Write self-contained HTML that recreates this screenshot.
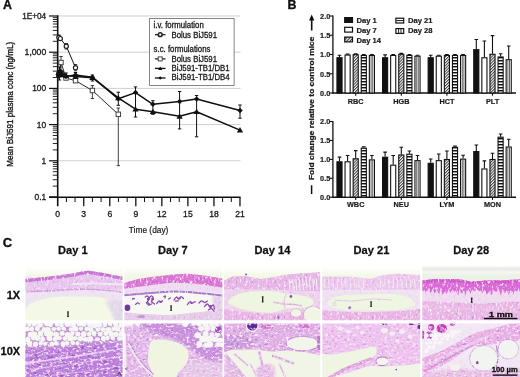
<!DOCTYPE html>
<html><head><meta charset="utf-8"><title>Figure</title>
<style>
html,body{margin:0;padding:0;background:#fff;}
body{width:520px;height:377px;overflow:hidden;}
svg{display:block;font-family:'Liberation Sans', Arial, sans-serif;}
</style></head>
<body>
<svg width="520" height="377" viewBox="0 0 520 377">

<defs>
<pattern id="hatch" patternUnits="userSpaceOnUse" width="2.05" height="2.05" patternTransform="rotate(45)">
<rect width="2.05" height="2.05" fill="#fff"/><line x1="0.5" y1="0" x2="0.5" y2="2.05" stroke="#333" stroke-width="0.95"/></pattern>
<pattern id="hatchL" patternUnits="userSpaceOnUse" width="2.3" height="2.3" patternTransform="rotate(45)">
<rect width="2.3" height="2.3" fill="#fff"/><line x1="0.5" y1="0" x2="0.5" y2="2.3" stroke="#222" stroke-width="1.0"/></pattern>
<pattern id="hstripe" patternUnits="userSpaceOnUse" width="6" height="3.0">
<rect width="6" height="3.0" fill="#fff"/><rect x="0" y="0" width="6" height="1.45" fill="#111"/></pattern>

<filter id="tex" x="0" y="0" width="100%" height="100%" color-interpolation-filters="sRGB">
<feTurbulence type="fractalNoise" baseFrequency="0.5 0.28" numOctaves="2" seed="4" result="n"/>
<feColorMatrix in="SourceGraphic" type="matrix" values="0 0 0 0 0  0 0 0 0 0  0 0 0 0 0  0 -4 0 0 3.8" result="m"/>
<feColorMatrix in="n" type="matrix" values="0 0 0 0 0.55  0 0 0 0 0.3  0 0 0 0 0.68  2.0 0 0 0 -1.22" result="dk"/>
<feColorMatrix in="n" type="matrix" values="0 0 0 0 1  0 0 0 0 0.97  0 0 0 0 1  0 -3.6 0 0 1.68" result="lt"/>
<feComposite in="dk" in2="m" operator="in" result="dk2"/>
<feComposite in="lt" in2="m" operator="in" result="lt2"/>
<feMerge result="mg"><feMergeNode in="SourceGraphic"/><feMergeNode in="dk2"/><feMergeNode in="lt2"/></feMerge>
<feGaussianBlur in="mg" stdDeviation="0.45"/>
</filter>
<filter id="tex2" x="0" y="0" width="100%" height="100%" color-interpolation-filters="sRGB">
<feTurbulence type="fractalNoise" baseFrequency="0.32 0.45" numOctaves="3" seed="9" result="n"/>
<feColorMatrix in="SourceGraphic" type="matrix" values="0 0 0 0 0  0 0 0 0 0  0 0 0 0 0  0 -4 0 0 3.8" result="m"/>
<feColorMatrix in="n" type="matrix" values="0 0 0 0 0.55  0 0 0 0 0.3  0 0 0 0 0.72  2.2 0 0 0 -1.3" result="dk"/>
<feColorMatrix in="n" type="matrix" values="0 0 0 0 1  0 0 0 0 0.94  0 0 0 0 1  0 -3.6 0 0 1.78" result="lt"/>
<feComposite in="dk" in2="m" operator="in" result="dk2"/>
<feComposite in="lt" in2="m" operator="in" result="lt2"/>
<feMerge result="mg"><feMergeNode in="SourceGraphic"/><feMergeNode in="dk2"/><feMergeNode in="lt2"/></feMerge>
<feGaussianBlur in="mg" stdDeviation="0.5"/>
</filter>
<linearGradient id="topfade" gradientUnits="userSpaceOnUse" x1="0" y1="0" x2="0" y2="10">
<stop offset="0" stop-color="#fff" stop-opacity="1"/><stop offset="0.35" stop-color="#fff" stop-opacity="0.75"/><stop offset="1" stop-color="#fff" stop-opacity="0"/></linearGradient>
<filter id="b06" x="-20%" y="-20%" width="140%" height="140%"><feGaussianBlur stdDeviation="0.6"/></filter>
<filter id="b1" x="-20%" y="-20%" width="140%" height="140%"><feGaussianBlur stdDeviation="1"/></filter>
<filter id="b15" x="-20%" y="-20%" width="140%" height="140%"><feGaussianBlur stdDeviation="1.5"/></filter>

</defs>

<rect width="520" height="377" fill="#fff"/>
<clipPath id="cp1"><rect x="0" y="0" width="97.30" height="54.30"/></clipPath><g transform="translate(25.30,266.00)"><g clip-path="url(#cp1)"><g filter="url(#tex)"><path d="M-3.0 -3.0 L100.3 -3.0 L100.3 57.3 L-3.0 57.3 Z" fill="#f4f8e6"/><path d="M-3.0 -3.0 L100.3 -3.0 L100.3 10.0 L-3.0 10.0 Z" fill="url(#topfade)"/><path d="M10.0 12.0 C13.7 11.6 18.2 11.3 22.4 10.8 C26.6 10.3 31.2 9.7 35.0 9.2 C38.8 8.7 42.5 8.2 45.0 7.8 C47.5 7.4 48.3 7.3 50.0 7.0 C51.7 6.7 52.9 6.2 55.0 5.8 C57.1 5.4 60.3 4.8 62.8 4.8 C65.3 4.8 67.5 5.4 70.0 5.8 C72.5 6.2 74.9 6.5 77.9 7.0 C80.9 7.5 84.8 8.4 88.0 9.0 C91.2 9.6 95.2 10.5 97.3 10.8 C99.3 11.1 99.8 3.2 100.3 11.0 C100.8 18.8 101.7 49.6 100.3 57.3 C98.9 65.0 94.0 59.4 92.0 57.3 C90.0 55.3 89.2 48.6 88.0 45.0 C86.8 41.4 86.7 38.2 85.0 36.0 C83.3 33.8 80.5 32.8 78.0 32.0 C75.5 31.2 74.7 31.2 70.0 31.0 C65.3 30.8 56.7 30.5 50.0 30.5 C43.3 30.5 35.8 30.4 30.0 31.0 C24.2 31.6 19.2 32.8 15.0 34.0 C10.8 35.2 7.5 36.5 5.0 38.0 C2.5 39.5 1.3 41.7 0.0 43.0 C-1.3 44.3 -3.0 51.0 -3.0 46.0 C-3.0 41.0 -2.2 18.8 0.0 13.1 C2.2 7.4 6.3 12.4 10.0 12.0 Z" fill="#eee4f2" filter="url(#b06)"/><path d="M80.0 36.0 L90.0 34.0 L100.3 36.0 L100.3 57.3 L90.0 57.3 L86.0 46.0 Z" fill="#e2dae8" filter="url(#b15)"/><path d="M0.0 13.1 L10.0 12.0 L22.4 10.8 L35.0 9.2 L45.0 7.8 L50.0 7.0 L55.0 5.8 L62.8 4.8 L70.0 5.8 L77.9 7.0 L88.0 9.0 L97.3 10.8 L100.3 24.0 L70.0 22.5 L47.7 23.0 L20.0 25.0 L-3.0 26.0 Z" fill="#e8c6ee" filter="url(#b06)"/><path d="M47.0 17.0 L70.0 16.5 L100.3 17.5 L100.3 19.5 L70.0 18.5 L47.0 19.0 Z" fill="#f2e6f6" filter="url(#b06)"/><path d="M0.0 13.1 L10.0 12.0 L22.4 10.8 L35.0 9.2 L45.0 7.8 L50.0 7.0 L55.0 5.8 L62.8 4.8 L70.0 5.8 L77.9 7.0 L88.0 9.0 L97.3 10.8 L97.3 14.0 L88.0 12.2 L77.9 10.2 L70.0 9.0 L62.8 8.0 L55.0 9.0 L50.0 10.2 L45.0 11.0 L35.0 12.4 L22.4 14.0 L10.0 15.2 L0.0 16.3 Z" fill="#c874d4" filter="url(#b06)"/><path d="M-3.0 26.0 C0.8 25.8 11.5 25.4 20.0 25.0 C28.5 24.6 39.4 23.8 47.7 23.5 C56.0 23.2 61.2 23.1 70.0 23.5 C78.8 23.9 95.2 25.8 100.3 26.2" stroke="#d69ede" stroke-width="1.6" fill="none"/></g><path d="M42.7 45.6V50.9" stroke="#1a1a1a" stroke-width="1.25"/><path d="M41.7 45.9H43.7M41.7 50.6H43.7" stroke="#1a1a1a" stroke-width="0.6"/></g></g>
<clipPath id="cp2"><rect x="0" y="0" width="97.30" height="53.40"/></clipPath><g transform="translate(25.30,323.60)"><g clip-path="url(#cp2)"><g filter="url(#tex2)"><path d="M-3.0 -3.0 L100.3 -3.0 L100.3 56.4 L-3.0 56.4 Z" fill="#bc80da"/><path d="M-3.0 -3.0 L100.3 -3.0 L100.3 19.0 L-3.0 27.0 Z" fill="#c490d8"/><ellipse cx="-1.3" cy="0.4" rx="2.3" ry="2.7" fill="#f4f8f0"/><ellipse cx="4.1" cy="0.3" rx="2.2" ry="2.6" fill="#f4f8f0"/><ellipse cx="9.0" cy="0.3" rx="2.8" ry="2.3" fill="#f4f8f0"/><ellipse cx="14.7" cy="1.2" rx="2.9" ry="2.8" fill="#f4f8f0"/><ellipse cx="21.5" cy="0.3" rx="2.6" ry="2.5" fill="#f4f8f0"/><ellipse cx="25.3" cy="0.7" rx="2.5" ry="2.9" fill="#f4f8f0"/><ellipse cx="31.7" cy="0.8" rx="2.3" ry="2.3" fill="#f4f8f0"/><ellipse cx="36.2" cy="1.3" rx="2.4" ry="2.6" fill="#f4f8f0"/><ellipse cx="42.1" cy="0.7" rx="2.9" ry="2.6" fill="#f4f8f0"/><ellipse cx="47.7" cy="1.0" rx="3.0" ry="2.6" fill="#f4f8f0"/><ellipse cx="53.9" cy="0.4" rx="2.7" ry="2.3" fill="#f4f8f0"/><ellipse cx="58.4" cy="0.3" rx="2.9" ry="2.8" fill="#f4f8f0"/><ellipse cx="64.5" cy="0.7" rx="2.8" ry="2.8" fill="#f4f8f0"/><ellipse cx="69.1" cy="1.6" rx="2.8" ry="3.0" fill="#f4f8f0"/><ellipse cx="73.7" cy="1.3" rx="3.1" ry="2.9" fill="#f4f8f0"/><ellipse cx="79.6" cy="0.8" rx="2.3" ry="2.7" fill="#f4f8f0"/><ellipse cx="84.8" cy="0.4" rx="2.5" ry="2.1" fill="#f4f8f0"/><ellipse cx="90.3" cy="0.8" rx="2.5" ry="2.8" fill="#f4f8f0"/><ellipse cx="96.3" cy="1.6" rx="3.1" ry="2.6" fill="#f4f8f0"/><ellipse cx="1.5" cy="5.5" rx="3.2" ry="2.5" fill="#f4f8f0"/><ellipse cx="6.5" cy="5.3" rx="2.4" ry="2.5" fill="#f4f8f0"/><ellipse cx="12.0" cy="4.9" rx="2.5" ry="2.6" fill="#f4f8f0"/><ellipse cx="18.8" cy="6.0" rx="2.7" ry="2.7" fill="#f4f8f0"/><ellipse cx="22.4" cy="6.3" rx="3.1" ry="3.0" fill="#f4f8f0"/><ellipse cx="28.5" cy="5.5" rx="2.5" ry="2.1" fill="#f4f8f0"/><ellipse cx="33.3" cy="5.2" rx="2.3" ry="2.1" fill="#f4f8f0"/><ellipse cx="38.5" cy="5.1" rx="2.3" ry="2.0" fill="#f4f8f0"/><ellipse cx="45.6" cy="5.9" rx="2.2" ry="2.3" fill="#f4f8f0"/><ellipse cx="50.0" cy="5.1" rx="3.2" ry="2.8" fill="#f4f8f0"/><ellipse cx="55.7" cy="5.0" rx="2.2" ry="2.2" fill="#f4f8f0"/><ellipse cx="61.7" cy="5.1" rx="2.6" ry="2.3" fill="#f4f8f0"/><ellipse cx="65.8" cy="5.8" rx="2.3" ry="2.6" fill="#f4f8f0"/><ellipse cx="72.6" cy="6.0" rx="2.4" ry="2.2" fill="#f4f8f0"/><ellipse cx="77.8" cy="5.8" rx="2.6" ry="2.5" fill="#f4f8f0"/><ellipse cx="83.3" cy="6.5" rx="3.1" ry="3.1" fill="#f4f8f0"/><ellipse cx="88.6" cy="5.3" rx="2.5" ry="2.2" fill="#f4f8f0"/><ellipse cx="92.6" cy="5.3" rx="2.6" ry="2.8" fill="#f4f8f0"/><ellipse cx="98.8" cy="6.4" rx="3.3" ry="2.8" fill="#f4f8f0"/><ellipse cx="-1.5" cy="10.0" rx="2.2" ry="2.5" fill="#f4f8f0"/><ellipse cx="5.2" cy="10.9" rx="2.7" ry="2.8" fill="#f4f8f0"/><ellipse cx="9.0" cy="10.7" rx="3.1" ry="3.1" fill="#f4f8f0"/><ellipse cx="15.2" cy="9.9" rx="2.6" ry="3.0" fill="#f4f8f0"/><ellipse cx="21.5" cy="10.2" rx="2.9" ry="2.7" fill="#f4f8f0"/><ellipse cx="25.4" cy="9.8" rx="2.7" ry="2.6" fill="#f4f8f0"/><ellipse cx="30.7" cy="10.9" rx="3.0" ry="2.8" fill="#f4f8f0"/><ellipse cx="36.9" cy="9.8" rx="2.6" ry="2.4" fill="#f4f8f0"/><ellipse cx="42.3" cy="11.1" rx="2.8" ry="2.8" fill="#f4f8f0"/><ellipse cx="47.0" cy="10.0" rx="2.3" ry="2.5" fill="#f4f8f0"/><ellipse cx="52.5" cy="10.3" rx="2.7" ry="2.3" fill="#f4f8f0"/><ellipse cx="58.3" cy="10.5" rx="2.8" ry="3.2" fill="#f4f8f0"/><ellipse cx="63.8" cy="10.4" rx="2.2" ry="2.6" fill="#f4f8f0"/><ellipse cx="68.6" cy="9.6" rx="2.5" ry="2.8" fill="#f4f8f0"/><ellipse cx="75.0" cy="10.5" rx="2.5" ry="2.5" fill="#f4f8f0"/><ellipse cx="80.6" cy="9.8" rx="2.4" ry="2.5" fill="#f4f8f0"/><ellipse cx="85.9" cy="10.4" rx="2.8" ry="3.0" fill="#f4f8f0"/><ellipse cx="90.7" cy="10.6" rx="2.6" ry="2.8" fill="#f4f8f0"/><ellipse cx="96.1" cy="10.4" rx="2.9" ry="2.7" fill="#f4f8f0"/><ellipse cx="2.4" cy="15.8" rx="2.5" ry="2.8" fill="#f4f8f0"/><ellipse cx="7.8" cy="14.5" rx="2.3" ry="2.1" fill="#f4f8f0"/><ellipse cx="12.0" cy="14.4" rx="2.9" ry="3.0" fill="#f4f8f0"/><ellipse cx="17.2" cy="15.4" rx="2.4" ry="3.0" fill="#f4f8f0"/><ellipse cx="24.2" cy="14.6" rx="2.8" ry="2.9" fill="#f4f8f0"/><ellipse cx="29.7" cy="15.6" rx="2.3" ry="2.4" fill="#f4f8f0"/><ellipse cx="33.8" cy="14.6" rx="2.7" ry="2.1" fill="#f4f8f0"/><ellipse cx="39.6" cy="15.0" rx="2.2" ry="2.4" fill="#f4f8f0"/><ellipse cx="44.9" cy="14.4" rx="3.1" ry="3.3" fill="#f4f8f0"/><ellipse cx="49.5" cy="14.7" rx="2.5" ry="2.2" fill="#f4f8f0"/><ellipse cx="55.0" cy="15.0" rx="3.1" ry="2.6" fill="#f4f8f0"/><ellipse cx="60.4" cy="15.8" rx="2.8" ry="2.3" fill="#f4f8f0"/><ellipse cx="65.6" cy="15.4" rx="2.2" ry="2.9" fill="#f4f8f0"/><ellipse cx="72.2" cy="15.6" rx="2.6" ry="2.0" fill="#f4f8f0"/><ellipse cx="78.0" cy="15.0" rx="2.5" ry="2.8" fill="#f4f8f0"/><ellipse cx="82.2" cy="14.5" rx="2.4" ry="2.3" fill="#f4f8f0"/><ellipse cx="87.4" cy="14.4" rx="2.3" ry="2.3" fill="#f4f8f0"/><ellipse cx="94.0" cy="14.8" rx="2.3" ry="2.5" fill="#f4f8f0"/><ellipse cx="98.0" cy="14.7" rx="2.5" ry="2.3" fill="#f4f8f0"/><ellipse cx="-1.6" cy="19.8" rx="2.5" ry="3.1" fill="#f4f8f0"/><ellipse cx="4.3" cy="19.8" rx="2.7" ry="2.8" fill="#f4f8f0"/><ellipse cx="10.2" cy="20.6" rx="2.8" ry="2.7" fill="#f4f8f0"/><ellipse cx="15.5" cy="19.6" rx="2.2" ry="2.2" fill="#f4f8f0"/><ellipse cx="19.8" cy="20.2" rx="2.2" ry="2.1" fill="#f4f8f0"/><ellipse cx="26.7" cy="20.4" rx="2.5" ry="2.5" fill="#f4f8f0"/><ellipse cx="31.0" cy="19.7" rx="2.4" ry="2.2" fill="#f4f8f0"/><ellipse cx="37.7" cy="20.6" rx="2.4" ry="3.0" fill="#f4f8f0"/><ellipse cx="41.8" cy="19.6" rx="2.2" ry="2.3" fill="#f4f8f0"/><ellipse cx="47.6" cy="19.3" rx="2.2" ry="2.4" fill="#f4f8f0"/><ellipse cx="52.2" cy="19.6" rx="2.0" ry="2.2" fill="#f4f8f0"/><path d="M-3 40 Q48.65 33.75 100.3 24.5" stroke="#e6cef0" stroke-width="1.8" fill="none"/><path d="M-3 47 Q48.65 41.0 100.3 32" stroke="#dcbcec" stroke-width="1.3" fill="none"/><path d="M-3 33.5 Q48.65 29.0 100.3 21.5" stroke="#cfa2e4" stroke-width="1.0" fill="none"/><path d="M-3 55 Q48.65 50.0 100.3 42" stroke="#d6b0e8" stroke-width="1.1" fill="none"/><ellipse cx="95.2" cy="51.3" rx="0.8" ry="0.9" fill="#8e48b4" opacity="0.7"/><ellipse cx="79.8" cy="52.4" rx="1.3" ry="0.8" fill="#8e48b4" opacity="0.7"/><ellipse cx="20.4" cy="52.0" rx="1.1" ry="0.9" fill="#8e48b4" opacity="0.7"/><ellipse cx="13.8" cy="41.2" rx="1.9" ry="0.7" fill="#8e48b4" opacity="0.7"/><ellipse cx="79.8" cy="38.2" rx="1.9" ry="1.0" fill="#8e48b4" opacity="0.7"/><ellipse cx="22.5" cy="50.7" rx="1.4" ry="0.6" fill="#8e48b4" opacity="0.7"/><ellipse cx="0.3" cy="41.0" rx="1.3" ry="0.8" fill="#8e48b4" opacity="0.7"/><ellipse cx="13.7" cy="36.7" rx="1.2" ry="1.1" fill="#8e48b4" opacity="0.7"/><ellipse cx="0.2" cy="47.3" rx="1.8" ry="0.7" fill="#8e48b4" opacity="0.7"/><ellipse cx="90.1" cy="44.3" rx="1.9" ry="0.8" fill="#8e48b4" opacity="0.7"/><ellipse cx="36.2" cy="36.8" rx="2.0" ry="1.0" fill="#8e48b4" opacity="0.7"/><ellipse cx="35.1" cy="37.8" rx="1.1" ry="0.6" fill="#8e48b4" opacity="0.7"/><ellipse cx="9.9" cy="49.2" rx="1.1" ry="1.2" fill="#8e48b4" opacity="0.7"/><ellipse cx="24.3" cy="34.0" rx="1.4" ry="0.7" fill="#8e48b4" opacity="0.7"/><ellipse cx="36.3" cy="52.2" rx="1.9" ry="1.1" fill="#8e48b4" opacity="0.7"/><ellipse cx="61.4" cy="50.9" rx="1.9" ry="0.9" fill="#8e48b4" opacity="0.7"/><ellipse cx="70.0" cy="24.7" rx="1.7" ry="0.9" fill="#8e48b4" opacity="0.7"/><ellipse cx="73.2" cy="42.6" rx="1.1" ry="0.6" fill="#8e48b4" opacity="0.7"/><ellipse cx="90.2" cy="25.6" rx="1.4" ry="0.8" fill="#8e48b4" opacity="0.7"/><ellipse cx="29.0" cy="46.4" rx="2.0" ry="0.8" fill="#8e48b4" opacity="0.7"/><ellipse cx="63.8" cy="32.7" rx="1.5" ry="0.8" fill="#8e48b4" opacity="0.7"/><ellipse cx="16.3" cy="31.8" rx="1.0" ry="1.1" fill="#8e48b4" opacity="0.7"/><ellipse cx="48.4" cy="31.3" rx="1.9" ry="1.2" fill="#8e48b4" opacity="0.7"/><ellipse cx="43.8" cy="29.3" rx="1.0" ry="0.7" fill="#8e48b4" opacity="0.7"/><ellipse cx="33.3" cy="28.7" rx="1.1" ry="0.8" fill="#8e48b4" opacity="0.7"/><ellipse cx="55.4" cy="50.1" rx="1.7" ry="0.8" fill="#8e48b4" opacity="0.7"/><ellipse cx="40.3" cy="40.2" rx="1.3" ry="0.8" fill="#8e48b4" opacity="0.7"/><ellipse cx="6.0" cy="35.4" rx="2.0" ry="0.7" fill="#8e48b4" opacity="0.7"/><ellipse cx="49.0" cy="42.9" rx="1.8" ry="0.7" fill="#8e48b4" opacity="0.7"/><ellipse cx="26.4" cy="33.4" rx="1.3" ry="0.9" fill="#8e48b4" opacity="0.7"/><ellipse cx="92.8" cy="48.6" rx="1.8" ry="0.6" fill="#8e48b4" opacity="0.7"/><ellipse cx="3.1" cy="46.2" rx="1.9" ry="0.9" fill="#8e48b4" opacity="0.7"/><ellipse cx="57.1" cy="24.3" rx="1.3" ry="1.2" fill="#8e48b4" opacity="0.7"/><ellipse cx="80.3" cy="48.9" rx="2.0" ry="0.7" fill="#8e48b4" opacity="0.7"/><ellipse cx="10.6" cy="32.0" rx="1.4" ry="1.0" fill="#8e48b4" opacity="0.7"/><ellipse cx="91.6" cy="44.5" rx="1.6" ry="1.1" fill="#8e48b4" opacity="0.7"/><ellipse cx="44.5" cy="40.8" rx="0.8" ry="1.1" fill="#8e48b4" opacity="0.7"/><ellipse cx="22.6" cy="51.3" rx="1.6" ry="0.8" fill="#8e48b4" opacity="0.7"/><ellipse cx="12.5" cy="34.4" rx="1.6" ry="1.0" fill="#8e48b4" opacity="0.7"/><ellipse cx="10.9" cy="29.9" rx="1.4" ry="0.9" fill="#8e48b4" opacity="0.7"/><ellipse cx="37.8" cy="32.0" rx="1.6" ry="0.5" fill="#ead6f2" opacity="0.8"/><ellipse cx="29.3" cy="38.9" rx="2.1" ry="0.8" fill="#ead6f2" opacity="0.8"/><ellipse cx="86.0" cy="36.9" rx="1.1" ry="0.6" fill="#ead6f2" opacity="0.8"/><ellipse cx="93.5" cy="43.9" rx="1.2" ry="0.5" fill="#ead6f2" opacity="0.8"/><ellipse cx="48.5" cy="44.2" rx="1.4" ry="0.6" fill="#ead6f2" opacity="0.8"/><ellipse cx="64.9" cy="51.2" rx="1.1" ry="0.5" fill="#ead6f2" opacity="0.8"/><ellipse cx="32.9" cy="37.7" rx="1.8" ry="0.6" fill="#ead6f2" opacity="0.8"/><ellipse cx="77.6" cy="45.4" rx="1.5" ry="0.6" fill="#ead6f2" opacity="0.8"/><ellipse cx="94.4" cy="31.3" rx="1.9" ry="0.6" fill="#ead6f2" opacity="0.8"/><ellipse cx="21.5" cy="47.1" rx="1.2" ry="1.0" fill="#ead6f2" opacity="0.8"/><ellipse cx="48.2" cy="30.3" rx="1.1" ry="0.7" fill="#ead6f2" opacity="0.8"/><ellipse cx="64.7" cy="51.9" rx="1.0" ry="0.7" fill="#ead6f2" opacity="0.8"/><ellipse cx="20.7" cy="52.7" rx="1.0" ry="0.5" fill="#ead6f2" opacity="0.8"/><ellipse cx="5.9" cy="38.3" rx="2.1" ry="0.9" fill="#ead6f2" opacity="0.8"/><ellipse cx="71.3" cy="53.3" rx="2.1" ry="0.7" fill="#ead6f2" opacity="0.8"/><ellipse cx="18.1" cy="51.7" rx="1.8" ry="0.5" fill="#ead6f2" opacity="0.8"/><ellipse cx="64.6" cy="34.9" rx="1.3" ry="0.7" fill="#ead6f2" opacity="0.8"/><ellipse cx="16.5" cy="27.7" rx="1.2" ry="0.7" fill="#ead6f2" opacity="0.8"/><ellipse cx="93.0" cy="25.3" rx="2.1" ry="0.6" fill="#ead6f2" opacity="0.8"/><ellipse cx="34.7" cy="48.5" rx="2.0" ry="0.7" fill="#ead6f2" opacity="0.8"/><ellipse cx="4.8" cy="40.3" rx="1.3" ry="1.0" fill="#ead6f2" opacity="0.8"/><ellipse cx="18.8" cy="36.9" rx="2.1" ry="0.5" fill="#ead6f2" opacity="0.8"/><ellipse cx="40.0" cy="48.2" rx="1.9" ry="0.5" fill="#ead6f2" opacity="0.8"/><ellipse cx="3.4" cy="30.3" rx="2.1" ry="0.6" fill="#ead6f2" opacity="0.8"/><ellipse cx="72.7" cy="50.3" rx="1.3" ry="0.6" fill="#ead6f2" opacity="0.8"/></g><path d="M92 52 l2 -3 l2 3" stroke="#333" stroke-width="0.8" fill="none"/></g></g>
<clipPath id="cp3"><rect x="0" y="0" width="98.00" height="54.30"/></clipPath><g transform="translate(124.40,266.00)"><g clip-path="url(#cp3)"><g filter="url(#tex)"><path d="M-3.0 -3.0 L101.0 -3.0 L101.0 57.3 L-3.0 57.3 Z" fill="#f6f8f1"/><path d="M-3.0 -3.0 L101.0 -3.0 L101.0 14.0 L-3.0 18.0 Z" fill="#f0f7e4"/><path d="M-3.0 -3.0 L101.0 -3.0 L101.0 10.0 L-3.0 10.0 Z" fill="url(#topfade)"/><path d="M20.0 48.0 C28.0 48.3 36.7 49.2 45.0 49.0 C53.3 48.8 60.7 47.2 70.0 46.5 C79.3 45.8 95.8 43.2 101.0 45.0 C106.2 46.8 118.3 55.3 101.0 57.3 C83.7 59.4 14.3 59.0 -3.0 57.3 C-20.3 55.6 -6.8 48.6 -3.0 47.0 C0.8 45.4 12.0 47.7 20.0 48.0 Z" fill="#e6cce8" filter="url(#b06)"/><path d="M88.0 30.0 L101.0 29.0 L101.0 48.0 L90.0 46.0 Z" fill="#e6d0ea" filter="url(#b1)"/><path d="M0.0 16.9 L13.7 13.1 L28.8 10.8 L48.6 8.6 L62.7 7.8 L77.8 9.3 L98.0 12.4 L101.0 28.0 L70.0 25.0 L48.0 24.0 L20.0 26.0 L-3.0 28.5 Z" fill="#eedcf2" filter="url(#b06)"/><path d="M-3.0 29.5 C0.8 29.2 11.5 28.2 20.0 27.5 C28.5 26.8 39.7 25.7 48.0 25.5 C56.3 25.3 61.2 25.8 70.0 26.5 C78.8 27.2 95.8 29.4 101.0 30.0" stroke="#a878cc" stroke-width="2" fill="none" filter="url(#b06)"/><path d="M0.0 16.9 L13.7 13.1 L28.8 10.8 L48.6 8.6 L62.7 7.8 L77.8 9.3 L98.0 12.4 L101.0 22.0 L70.0 17.5 L48.0 16.5 L20.0 20.0 L-3.0 23.0 Z" fill="#dc74d4" filter="url(#b06)"/></g><path d="M20.8 31.0 C21.2 30.8 22.4 29.7 23.0 30.0 C23.6 30.3 24.5 32.0 24.5 33.0 C24.5 34.0 22.8 35.1 23.0 36.0 C23.2 36.9 25.1 38.1 25.5 38.5" stroke="#8e46b6" stroke-width="1.3" fill="none" stroke-linecap="round" filter="url(#b06)"/><path d="M25.0 31.5 C25.4 31.2 26.8 29.8 27.5 30.0 C28.2 30.2 29.1 32.1 29.0 33.0 C28.9 33.9 26.8 34.7 27.0 35.5 C27.2 36.3 29.5 37.6 30.0 38.0" stroke="#8e46b6" stroke-width="1.3" fill="none" stroke-linecap="round" filter="url(#b06)"/><path d="M22.0 36.5 C22.3 36.9 23.2 38.8 24.0 39.0 C24.8 39.2 26.5 38.2 27.0 38.0" stroke="#8e46b6" stroke-width="1.3" fill="none" stroke-linecap="round" filter="url(#b06)"/><path d="M11.2 38.5 C11.5 38.2 12.4 36.9 13.0 36.8 C13.6 36.7 14.7 37.6 15.0 37.8" stroke="#8e46b6" stroke-width="1.3" fill="none" stroke-linecap="round" filter="url(#b06)"/><path d="M32.3 37.5 C32.7 37.1 33.8 35.2 34.5 35.0 C35.2 34.8 35.9 36.0 36.5 36.0 C37.1 36.0 37.8 35.0 38.0 34.8" stroke="#8e46b6" stroke-width="1.3" fill="none" stroke-linecap="round" filter="url(#b06)"/><path d="M39.5 30.5 C39.8 30.4 40.8 29.8 41.0 30.0 C41.2 30.2 40.6 31.7 40.5 32.0" stroke="#8e46b6" stroke-width="1.3" fill="none" stroke-linecap="round" filter="url(#b06)"/><path d="M49.6 34.0 C50.0 33.5 51.3 31.2 52.0 31.0 C52.7 30.8 53.2 33.0 54.0 33.0 C54.8 33.0 55.7 30.8 56.5 30.7 C57.3 30.6 58.6 32.2 59.0 32.5" stroke="#8e46b6" stroke-width="1.3" fill="none" stroke-linecap="round" filter="url(#b06)"/><path d="M51.0 35.2 L54.0 34.8" stroke="#8e46b6" stroke-width="1.3" fill="none" stroke-linecap="round" filter="url(#b06)"/><path d="M63.0 38.5 C63.4 38.0 64.7 36.0 65.5 35.8 C66.3 35.5 67.1 37.0 68.0 37.0 C68.9 37.0 70.3 35.8 70.8 35.6" stroke="#8e46b6" stroke-width="1.3" fill="none" stroke-linecap="round" filter="url(#b06)"/><path d="M74.6 37.0 C75.0 36.6 76.1 34.9 77.0 34.8 C77.9 34.7 79.0 36.5 80.0 36.5 C81.0 36.5 82.5 35.2 83.0 35.0" stroke="#8e46b6" stroke-width="1.3" fill="none" stroke-linecap="round" filter="url(#b06)"/><path d="M80.0 40.5 C80.5 40.1 82.0 37.9 83.0 38.0 C84.0 38.1 85.0 40.8 86.0 41.0 C87.0 41.2 88.3 38.7 89.0 39.0 C89.7 39.3 89.8 42.3 90.0 43.0" stroke="#8e46b6" stroke-width="1.3" fill="none" stroke-linecap="round" filter="url(#b06)"/><path d="M84.0 44.0 C84.5 43.8 86.1 42.3 87.0 42.5 C87.9 42.7 89.1 44.6 89.5 45.0" stroke="#8e46b6" stroke-width="1.3" fill="none" stroke-linecap="round" filter="url(#b06)"/><path d="M8.0 33.0 L10.0 32.5" stroke="#8e46b6" stroke-width="1.3" fill="none" stroke-linecap="round" filter="url(#b06)"/><path d="M44.0 33.0 L46.0 32.0" stroke="#8e46b6" stroke-width="1.3" fill="none" stroke-linecap="round" filter="url(#b06)"/><ellipse cx="24" cy="33" rx="1.6" ry="1.3" fill="#8a44b4" filter="url(#b06)"/><ellipse cx="28" cy="33" rx="1.3" ry="1.2" fill="#8a44b4" filter="url(#b06)"/><ellipse cx="55" cy="32.5" rx="1.4" ry="1.1" fill="#8a44b4" filter="url(#b06)"/><ellipse cx="86" cy="40.5" rx="1.6" ry="1.4" fill="#8a44b4" filter="url(#b06)"/><ellipse cx="36" cy="36" rx="1.2" ry="1" fill="#8a44b4" filter="url(#b06)"/><ellipse cx="67" cy="37" rx="1.2" ry="1" fill="#8a44b4" filter="url(#b06)"/><ellipse cx="3.0" cy="41.8" rx="2.9" ry="3.3" fill="#7434a6" filter="url(#b06)"/><ellipse cx="17" cy="50.5" rx="4" ry="1.6" fill="#c49ad4" filter="url(#b06)"/><path d="M46.7 39.6V44.8" stroke="#1a1a1a" stroke-width="1.25"/><path d="M45.7 39.9H47.7M45.7 44.5H47.7" stroke="#1a1a1a" stroke-width="0.6"/></g></g>
<clipPath id="cp4"><rect x="0" y="0" width="98.00" height="53.40"/></clipPath><g transform="translate(124.40,323.60)"><g clip-path="url(#cp4)"><g filter="url(#tex2)"><path d="M-3.0 -3.0 L101.0 -3.0 L101.0 56.4 L-3.0 56.4 Z" fill="#e2b8e8"/><path d="M101.0 -3.0 C114.8 4.2 104.2 33.5 101.0 40.0 C97.8 46.5 87.5 38.3 82.0 36.0 C76.5 33.7 72.3 29.0 68.0 26.0 C63.7 23.0 60.3 20.2 56.0 18.0 C51.7 15.8 46.7 14.5 42.0 13.0 C37.3 11.5 32.0 11.7 28.0 9.0 C24.0 6.3 5.8 -1.0 18.0 -3.0 C30.2 -5.0 87.2 -10.2 101.0 -3.0 Z" fill="#c890dc" filter="url(#b15)"/><path d="M80.0 38.0 C86.8 37.7 97.5 36.9 101.0 40.0 C104.5 43.1 107.8 53.7 101.0 56.4 C94.2 59.1 66.8 58.8 60.0 56.4 C53.2 54.0 56.7 45.1 60.0 42.0 C63.3 38.9 73.2 38.3 80.0 38.0 Z" fill="#e8cae8" filter="url(#b15)"/><ellipse cx="1.0" cy="0.2" rx="3.0" ry="2.7" fill="#f6f6f2"/><ellipse cx="5.7" cy="-0.9" rx="3.6" ry="3.3" fill="#f6f6f2"/><ellipse cx="13.4" cy="-0.9" rx="2.8" ry="3.2" fill="#f6f6f2"/><ellipse cx="61.0" cy="0.1" rx="3.3" ry="3.2" fill="#f6f6f2"/><ellipse cx="69.3" cy="-0.4" rx="2.3" ry="2.7" fill="#f6f6f2"/><ellipse cx="74.9" cy="-0.1" rx="2.7" ry="2.9" fill="#f6f6f2"/><ellipse cx="81.0" cy="0.5" rx="3.4" ry="2.9" fill="#f6f6f2"/><ellipse cx="87.6" cy="-0.4" rx="2.9" ry="3.3" fill="#f6f6f2"/><ellipse cx="92.3" cy="-0.5" rx="2.5" ry="3.1" fill="#f6f6f2"/><ellipse cx="99.4" cy="-0.3" rx="3.3" ry="2.9" fill="#f6f6f2"/><ellipse cx="76.8" cy="5.0" rx="3.0" ry="2.8" fill="#f6f6f2"/><ellipse cx="82.7" cy="4.7" rx="3.0" ry="3.0" fill="#f6f6f2"/><ellipse cx="89.0" cy="4.8" rx="3.1" ry="3.0" fill="#f6f6f2"/><ellipse cx="95.7" cy="6.2" rx="2.9" ry="2.7" fill="#f6f6f2"/><ellipse cx="73.4" cy="11.6" rx="3.3" ry="3.0" fill="#f6f6f2"/><ellipse cx="81.3" cy="10.2" rx="3.0" ry="3.1" fill="#f6f6f2"/><ellipse cx="87.6" cy="11.4" rx="2.5" ry="2.7" fill="#f6f6f2"/><ellipse cx="93.0" cy="10.6" rx="2.5" ry="2.9" fill="#f6f6f2"/><ellipse cx="100.1" cy="9.9" rx="3.3" ry="2.6" fill="#f6f6f2"/><ellipse cx="78.5" cy="15.5" rx="3.8" ry="3.5" fill="#f6f6f2"/><ellipse cx="84.4" cy="15.6" rx="3.4" ry="3.8" fill="#f6f6f2"/><ellipse cx="90.8" cy="15.6" rx="3.6" ry="2.8" fill="#f6f6f2"/><ellipse cx="95.8" cy="16.7" rx="3.1" ry="2.5" fill="#f6f6f2"/><ellipse cx="74.9" cy="20.7" rx="3.0" ry="3.4" fill="#f6f6f2"/><ellipse cx="81.7" cy="21.7" rx="3.0" ry="2.7" fill="#f6f6f2"/><ellipse cx="85.8" cy="20.9" rx="3.0" ry="3.1" fill="#f6f6f2"/><ellipse cx="93.9" cy="20.9" rx="2.9" ry="2.4" fill="#f6f6f2"/><ellipse cx="98.1" cy="21.3" rx="2.6" ry="2.5" fill="#f6f6f2"/><circle cx="94" cy="6" r="3.4" fill="#9a4cbe" filter="url(#b06)"/><path d="M35.0 16.0 C38.0 15.9 41.7 16.3 45.0 17.0 C48.3 17.7 52.0 18.5 55.0 20.0 C58.0 21.5 61.5 23.5 63.0 26.0 C64.5 28.5 64.5 32.2 64.0 35.0 C63.5 37.8 61.5 40.8 60.0 43.0 C58.5 45.2 56.3 46.3 55.0 48.0 C53.7 49.7 52.5 51.9 52.0 53.4 C51.5 54.9 55.3 56.4 52.0 57.0 C48.7 57.6 36.2 58.7 32.0 57.0 C27.8 55.3 28.4 50.0 27.0 47.0 C25.6 44.0 24.0 42.2 23.5 39.0 C23.0 35.8 23.4 31.6 24.0 28.0 C24.6 24.4 25.2 19.5 27.0 17.5 C28.8 15.5 32.0 16.1 35.0 16.0 Z" fill="#f0f5e2" filter="url(#b06)"/><path d="M4.0 20.0 C5.0 21.8 7.7 27.3 10.0 31.0 C12.3 34.7 15.0 38.6 18.0 42.0 C21.0 45.4 26.3 49.9 28.0 51.5" stroke="#f4eef4" stroke-width="1.6" fill="none"/><path d="M5.5 19.5 C6.5 21.3 9.2 26.8 11.5 30.5 C13.8 34.2 16.5 38.1 19.5 41.5 C22.5 44.9 27.8 49.4 29.5 51.0" stroke="#9a5ab8" stroke-width="0.6" fill="none"/><path d="M-3.0 8.0 L1.5 10.0 L2.0 50.0 L-3.0 52.0 Z" fill="#f2eef2" filter="url(#b06)"/><ellipse cx="2" cy="45" rx="1.6" ry="1" fill="#5a2a90"/></g></g></g>
<clipPath id="cp5"><rect x="0" y="0" width="96.10" height="54.30"/></clipPath><g transform="translate(224.10,266.00)"><g clip-path="url(#cp5)"><g filter="url(#tex)"><path d="M-3.0 -3.0 L99.1 -3.0 L99.1 57.3 L-3.0 57.3 Z" fill="#f3f8e6"/><path d="M-3.0 -3.0 L99.1 -3.0 L99.1 10.0 L-3.0 10.0 Z" fill="url(#topfade)"/><path d="M-3.0 14.6 L0.0 14.6 L8.0 10.8 L21.6 10.1 L36.7 13.1 L47.9 11.6 L63.0 8.6 L78.0 7.4 L96.1 6.3 L99.1 6.3 L99.1 57.3 L-3.0 57.3 Z" fill="#eed2ee" filter="url(#b06)"/><path d="M0.0 14.6 L8.0 10.8 L21.6 10.1 L36.7 13.1 L47.9 11.6 L63.0 8.6 L78.0 7.4 L96.1 6.3 L99.1 25.5 L48.0 23.5 L-3.0 23.0 Z" fill="#e8b6e6" filter="url(#b06)"/><path d="M65.0 13 L65.8 24" stroke="#f6eef6" stroke-width="1.1" filter="url(#b06)"/><path d="M68.4 13 L69.2 24" stroke="#f6eef6" stroke-width="1.1" filter="url(#b06)"/><path d="M71.8 13 L72.6 24" stroke="#f6eef6" stroke-width="1.1" filter="url(#b06)"/><path d="M75.2 13 L76.0 24" stroke="#f6eef6" stroke-width="1.1" filter="url(#b06)"/><path d="M78.6 13 L79.4 24" stroke="#f6eef6" stroke-width="1.1" filter="url(#b06)"/><path d="M82.0 13 L82.8 24" stroke="#f6eef6" stroke-width="1.1" filter="url(#b06)"/><path d="M85.4 13 L86.2 24" stroke="#f6eef6" stroke-width="1.1" filter="url(#b06)"/><path d="M88.8 13 L89.6 24" stroke="#f6eef6" stroke-width="1.1" filter="url(#b06)"/><path d="M92.2 13 L93.0 24" stroke="#f6eef6" stroke-width="1.1" filter="url(#b06)"/><path d="M20.0 46.0 C28.7 46.6 41.5 47.8 49.0 47.8 C56.5 47.8 59.8 46.5 65.0 46.0 C70.2 45.5 74.3 45.0 80.0 45.0 C85.7 45.0 95.9 43.9 99.1 46.0 C102.3 48.1 116.1 55.4 99.1 57.3 C82.1 59.2 14.0 59.5 -3.0 57.3 C-20.0 55.1 -6.8 45.9 -3.0 44.0 C0.8 42.1 11.3 45.4 20.0 46.0 Z" fill="#eab6e4" filter="url(#b06)"/><path d="M10.0 30.0 C12.9 28.4 17.4 27.0 21.6 26.2 C25.8 25.4 30.4 25.4 35.0 25.3 C39.6 25.2 44.5 24.9 49.0 25.3 C53.5 25.7 57.7 26.9 62.0 27.5 C66.3 28.1 71.3 28.4 75.0 29.0 C78.7 29.6 81.5 29.8 84.0 31.0 C86.5 32.2 90.0 34.3 90.0 36.0 C90.0 37.7 87.0 40.0 84.0 41.0 C81.0 42.0 75.7 41.7 72.0 42.0 C68.3 42.3 65.8 42.2 62.0 43.0 C58.2 43.8 53.5 46.0 49.0 46.5 C44.5 47.0 39.6 46.4 35.0 46.0 C30.4 45.6 25.8 44.9 21.6 44.0 C17.4 43.1 12.9 41.8 10.0 40.5 C7.1 39.2 4.0 37.8 4.0 36.0 C4.0 34.2 7.1 31.6 10.0 30.0 Z" fill="#eef6e2" filter="url(#b06)"/><ellipse cx="72" cy="47" rx="5.5" ry="4.2" fill="#f0f5e4" stroke="#dcaedc" stroke-width="0.7"/><path d="M62.0 28.0 C61.7 29.2 60.2 32.5 60.0 35.0 C59.8 37.5 60.8 41.7 61.0 43.0" stroke="#e2bce2" stroke-width="1.0" fill="none"/><path d="M49.0 36.0 C50.8 36.3 56.5 37.6 60.0 38.0 C63.5 38.4 67.0 38.2 70.0 38.5 C73.0 38.8 76.7 39.8 78.0 40.0" stroke="#e0b4e0" stroke-width="1.5" fill="none"/><ellipse cx="89" cy="49" rx="9.5" ry="8.5" fill="#f0f5e4" filter="url(#b06)"/><ellipse cx="89" cy="49" rx="9.8" ry="8.8" fill="none" stroke="#d8a0d8" stroke-width="0.8"/><circle cx="66.8" cy="30.5" r="1.4" fill="#8a50b0"/><circle cx="54" cy="51.5" r="1.3" fill="#8a50b0"/><circle cx="22" cy="8.5" r="0.9" fill="#6a3a90"/></g><path d="M38.6 30.6V36.2" stroke="#1a1a1a" stroke-width="1.25"/><path d="M37.6 30.9H39.6M37.6 35.9H39.6" stroke="#1a1a1a" stroke-width="0.6"/></g></g>
<clipPath id="cp6"><rect x="0" y="0" width="96.10" height="53.40"/></clipPath><g transform="translate(224.10,323.60)"><g clip-path="url(#cp6)"><g filter="url(#tex2)"><path d="M-3.0 -3.0 L99.1 -3.0 L99.1 56.4 L-3.0 56.4 Z" fill="#f1f5e8"/><path d="M99.1 -3.0 C116.1 2.3 102.3 23.8 99.1 29.0 C95.9 34.2 86.2 28.8 80.0 28.5 C73.8 28.2 67.3 27.1 62.0 27.0 C56.7 26.9 53.3 28.2 48.0 28.0 C42.7 27.8 36.3 26.3 30.0 26.0 C23.7 25.7 15.5 25.9 10.0 26.0 C4.5 26.1 -0.8 31.3 -3.0 26.5 C-5.2 21.7 -20.0 1.9 -3.0 -3.0 C14.0 -7.9 82.1 -8.3 99.1 -3.0 Z" fill="#e0b0e4" filter="url(#b06)"/><path d="M15.0 13.0 C20.5 13.7 27.8 14.2 30.0 16.0 C32.2 17.8 31.3 22.5 28.0 24.0 C24.7 25.5 15.2 24.8 10.0 25.0 C4.8 25.2 -0.8 27.2 -3.0 25.0 C-5.2 22.8 -6.0 14.0 -3.0 12.0 C0.0 10.0 9.5 12.3 15.0 13.0 Z" fill="#cc9cdc" filter="url(#b1)"/><ellipse cx="78.5" cy="20" rx="16" ry="6.8" fill="#f2f6ea" filter="url(#b06)"/><ellipse cx="78.5" cy="20" rx="16.5" ry="7.3" fill="none" stroke="#c48ad2" stroke-width="0.9"/><path d="M93.0 12.0 L99.1 11.0 L99.1 28.0 L93.0 26.0 Z" fill="#c27ccc" filter="url(#b06)"/><path d="M1 31 L21 55" stroke="#deb2e2" stroke-width="3.5" filter="url(#b06)"/><path d="M10 30 L24 42" stroke="#deb2e2" stroke-width="1.5" filter="url(#b06)"/><path d="M35 27.6 L41 55" stroke="#deb2e2" stroke-width="2.5" filter="url(#b06)"/><path d="M48 32 L70 40" stroke="#deb2e2" stroke-width="2.2" filter="url(#b06)"/><path d="M55 40 L62 55" stroke="#deb2e2" stroke-width="1.5" filter="url(#b06)"/><path d="M26 40 L34 55" stroke="#deb2e2" stroke-width="1.2" filter="url(#b06)"/><path d="M48.0 41.0 C50.7 42.8 52.5 52.7 50.0 55.0 C47.5 57.3 35.7 56.8 33.0 55.0 C30.3 53.2 31.5 46.3 34.0 44.0 C36.5 41.7 45.3 39.2 48.0 41.0 Z" fill="#e8c0e6" filter="url(#b1)"/><path d="M8.0 40.0 C10.7 43.2 17.3 52.5 16.0 55.0 C14.7 57.5 2.7 58.2 0.0 55.0 C-2.7 51.8 -1.3 38.5 0.0 36.0 C1.3 33.5 5.3 36.8 8.0 40.0 Z" fill="#e4bce4" filter="url(#b1)"/><ellipse cx="42.3" cy="3.0" rx="5.6" ry="2.2" fill="#d270c8" filter="url(#b06)"/><ellipse cx="81.5" cy="2.6" rx="6.5" ry="1.8" fill="#d270c8" filter="url(#b06)"/><circle cx="28.1" cy="2.0" r="6.3" fill="#fbf8fb"/><circle cx="28.1" cy="1.8" r="5.2" fill="#5a2896"/></g></g></g>
<clipPath id="cp7"><rect x="0" y="0" width="97.90" height="54.30"/></clipPath><g transform="translate(322.30,266.00)"><g clip-path="url(#cp7)"><g filter="url(#tex)"><path d="M-3.0 -3.0 L100.9 -3.0 L100.9 57.3 L-3.0 57.3 Z" fill="#f4f8e6"/><path d="M-3.0 -3.0 L100.9 -3.0 L100.9 10.0 L-3.0 10.0 Z" fill="url(#topfade)"/><path d="M-3.0 10.8 L0.0 10.8 L30.0 10.8 L40.0 12.0 L47.7 13.1 L60.0 9.3 L75.0 7.8 L97.9 9.3 L100.9 9.3 L100.9 57.3 L-3.0 57.3 Z" fill="#efe2f2" filter="url(#b06)"/><path d="M0.0 10.8 L30.0 10.8 L40.0 12.0 L47.7 13.1 L60.0 9.3 L75.0 7.8 L97.9 9.3 L100.9 23.5 L48.0 23.7 L-3.0 23.7 Z" fill="#ecc6ec" filter="url(#b06)"/><path d="M2.0 12.5 L2.6 22" stroke="#f4e8f4" stroke-width="1.0" filter="url(#b06)"/><path d="M6.3 12.5 L6.9 22" stroke="#f4e8f4" stroke-width="1.0" filter="url(#b06)"/><path d="M10.6 12.5 L11.2 22" stroke="#f4e8f4" stroke-width="1.0" filter="url(#b06)"/><path d="M14.9 12.5 L15.5 22" stroke="#f4e8f4" stroke-width="1.0" filter="url(#b06)"/><path d="M19.2 12.5 L19.8 22" stroke="#f4e8f4" stroke-width="1.0" filter="url(#b06)"/><path d="M23.5 12.5 L24.1 22" stroke="#f4e8f4" stroke-width="1.0" filter="url(#b06)"/><path d="M27.8 12.5 L28.4 22" stroke="#f4e8f4" stroke-width="1.0" filter="url(#b06)"/><path d="M32.1 12.5 L32.7 22" stroke="#f4e8f4" stroke-width="1.0" filter="url(#b06)"/><path d="M36.4 12.5 L37.0 22" stroke="#f4e8f4" stroke-width="1.0" filter="url(#b06)"/><path d="M40.7 12.5 L41.3 22" stroke="#f4e8f4" stroke-width="1.0" filter="url(#b06)"/><path d="M57.9 13 L58.5 22" stroke="#f4e8f4" stroke-width="1.0" filter="url(#b06)"/><path d="M62.2 13 L62.8 22" stroke="#f4e8f4" stroke-width="1.0" filter="url(#b06)"/><path d="M66.5 13 L67.1 22" stroke="#f4e8f4" stroke-width="1.0" filter="url(#b06)"/><path d="M70.8 13 L71.4 22" stroke="#f4e8f4" stroke-width="1.0" filter="url(#b06)"/><path d="M75.1 13 L75.7 22" stroke="#f4e8f4" stroke-width="1.0" filter="url(#b06)"/><path d="M79.4 13 L80.0 22" stroke="#f4e8f4" stroke-width="1.0" filter="url(#b06)"/><path d="M83.7 13 L84.3 22" stroke="#f4e8f4" stroke-width="1.0" filter="url(#b06)"/><path d="M88.0 13 L88.6 22" stroke="#f4e8f4" stroke-width="1.0" filter="url(#b06)"/><path d="M92.3 13 L92.9 22" stroke="#f4e8f4" stroke-width="1.0" filter="url(#b06)"/><path d="M20.0 45.5 C28.8 45.7 40.0 46.1 50.0 46.0 C60.0 45.9 71.5 45.3 80.0 45.0 C88.5 44.7 97.4 41.9 100.9 44.0 C104.4 46.1 118.2 55.1 100.9 57.3 C83.6 59.5 14.3 59.4 -3.0 57.3 C-20.3 55.3 -6.8 47.0 -3.0 45.0 C0.8 43.0 11.2 45.3 20.0 45.5 Z" fill="#eab6e4" filter="url(#b06)"/><path d="M15.0 30.5 C19.2 29.2 25.0 29.3 30.0 29.0 C35.0 28.7 38.3 28.7 45.0 28.5 C51.7 28.3 63.3 27.6 70.0 28.0 C76.7 28.4 81.2 29.3 85.0 31.0 C88.8 32.7 93.0 36.2 93.0 38.0 C93.0 39.8 88.8 41.0 85.0 42.0 C81.2 43.0 76.7 43.6 70.0 44.0 C63.3 44.4 52.5 44.5 45.0 44.5 C37.5 44.5 30.5 44.4 25.0 44.0 C19.5 43.6 15.3 43.2 12.0 42.0 C8.7 40.8 4.5 38.9 5.0 37.0 C5.5 35.1 10.8 31.8 15.0 30.5 Z" fill="#eef6e2" filter="url(#b06)"/><path d="M12.0 34.0 C15.0 34.2 23.7 35.2 30.0 35.0 C36.3 34.8 43.3 33.2 50.0 33.0 C56.7 32.8 66.7 33.8 70.0 34.0" stroke="#e4cbe8" stroke-width="1.2" fill="none"/><circle cx="27.4" cy="41.8" r="1.5" fill="#a070c0"/><circle cx="12" cy="38" r="1.6" fill="#f8f4f6" stroke="#caa0d0" stroke-width="0.5"/></g><path d="M48.8 35.6V40.7" stroke="#1a1a1a" stroke-width="1.25"/><path d="M47.8 35.9H49.8M47.8 40.4H49.8" stroke="#1a1a1a" stroke-width="0.6"/></g></g>
<clipPath id="cp8"><rect x="0" y="0" width="97.90" height="53.40"/></clipPath><g transform="translate(322.30,323.60)"><g clip-path="url(#cp8)"><g filter="url(#tex2)"><path d="M-3.0 -3.0 L100.9 -3.0 L100.9 56.4 L-3.0 56.4 Z" fill="#eec4ee"/><ellipse cx="18" cy="5" rx="3" ry="2" fill="#f4eef4" filter="url(#b06)"/><ellipse cx="26" cy="8" rx="2.5" ry="1.8" fill="#f4eef4" filter="url(#b06)"/><ellipse cx="40" cy="9" rx="2.4" ry="1.6" fill="#f4eef4" filter="url(#b06)"/><ellipse cx="62" cy="7" rx="3.5" ry="2.5" fill="#f4eef4" filter="url(#b06)"/><ellipse cx="70" cy="10" rx="3" ry="2.2" fill="#f4eef4" filter="url(#b06)"/><ellipse cx="80" cy="8" rx="3.2" ry="2.4" fill="#f4eef4" filter="url(#b06)"/><ellipse cx="88" cy="13" rx="2.5" ry="2" fill="#f4eef4" filter="url(#b06)"/><ellipse cx="35" cy="4" rx="2" ry="1.5" fill="#f4eef4" filter="url(#b06)"/><ellipse cx="75" cy="17" rx="2.2" ry="1.6" fill="#f4eef4" filter="url(#b06)"/><path d="M10.0 31.0 C14.7 30.3 20.0 29.4 25.0 28.5 C30.0 27.6 36.0 26.4 40.0 25.5 C44.0 24.6 46.5 23.4 48.7 23.2 C51.0 23.0 52.6 23.4 53.5 24.5 C54.4 25.6 54.6 28.4 54.0 30.0 C53.4 31.6 52.3 32.7 50.0 34.0 C47.7 35.3 44.2 36.3 40.0 38.0 C35.8 39.7 30.0 41.8 25.0 44.0 C20.0 46.2 13.3 49.0 10.0 51.0 C6.7 53.0 7.2 55.2 5.0 56.0 C2.8 56.8 -1.7 59.9 -3.0 56.0 C-4.3 52.1 -5.2 36.7 -3.0 32.5 C-0.8 28.3 5.3 31.7 10.0 31.0 Z" fill="#eef5e2" filter="url(#b06)"/><path d="M4 56 L22 46 L40 38.5 L50 35" stroke="#e2a8de" stroke-width="3.5" fill="none" filter="url(#b06)"/><path d="M30.0 48.0 C36.3 45.6 43.0 43.3 48.0 42.5 C53.0 41.7 54.7 43.1 60.0 43.0 C65.3 42.9 73.2 42.3 80.0 42.0 C86.8 41.7 97.4 38.5 100.9 41.0 C104.4 43.5 116.1 54.3 100.9 57.0 C85.8 59.7 21.8 58.5 10.0 57.0 C-1.8 55.5 23.7 50.4 30.0 48.0 Z" fill="#f0f5e6" filter="url(#b06)"/><ellipse cx="60" cy="37.7" rx="6.5" ry="4.3" fill="#f4f6ec" stroke="#a866c0" stroke-width="0.9"/><ellipse cx="62" cy="0.3" rx="3" ry="1.2" fill="#6a3898"/><ellipse cx="89" cy="0.3" rx="2.5" ry="1.2" fill="#6a3898"/><ellipse cx="97" cy="2.5" rx="1.8" ry="3" fill="#5a2a90"/><circle cx="74" cy="46" r="0.8" fill="#6a3898"/></g></g></g>
<clipPath id="cp9"><rect x="0" y="0" width="97.70" height="54.30"/></clipPath><g transform="translate(422.30,266.00)"><g clip-path="url(#cp9)"><g filter="url(#tex)"><path d="M-3.0 -3.0 L100.7 -3.0 L100.7 57.3 L-3.0 57.3 Z" fill="#ebf1e5"/><path d="M-3.0 -3.0 L100.7 -3.0 L100.7 10.0 L-3.0 10.0 Z" fill="url(#topfade)"/><path d="M-3.0 1.5 L100.7 1.5 L100.7 4.5 L-3.0 4.5 Z" fill="#e4e6e4" filter="url(#b1)"/><path d="M-3.0 14.4 L0.0 14.4 L8.0 13.4 L15.0 13.0 L22.0 13.6 L30.0 13.0 L40.0 13.8 L47.7 15.6 L55.0 15.2 L65.0 14.6 L80.0 14.4 L90.0 13.8 L97.7 13.6 L100.7 13.6 L100.7 57.3 L-3.0 57.3 Z" fill="#f0dcf0" filter="url(#b06)"/><path d="M30.0 36.5 C40.5 36.6 48.2 37.4 60.0 37.5 C71.8 37.6 93.9 33.7 100.7 37.0 C107.5 40.3 118.0 53.9 100.7 57.3 C83.4 60.7 14.3 60.7 -3.0 57.3 C-20.3 53.9 -8.5 40.5 -3.0 37.0 C2.5 33.5 19.5 36.4 30.0 36.5 Z" fill="#eab6e6" filter="url(#b06)"/><path d="M40.0 41.0 C57.3 42.0 90.6 43.0 100.7 44.0 C110.8 45.0 110.8 47.0 100.7 47.0 C90.6 47.0 57.3 45.0 40.0 44.0 C22.7 43.0 4.2 42.0 -3.0 41.0 C-10.2 40.0 -10.2 38.0 -3.0 38.0 C4.2 38.0 22.7 40.0 40.0 41.0 Z" fill="#eec2e8" filter="url(#b1)"/><path d="M0.0 14.4 L8.0 13.4 L15.0 13.0 L22.0 13.6 L30.0 13.0 L40.0 13.8 L47.7 15.6 L55.0 15.2 L65.0 14.6 L80.0 14.4 L90.0 13.8 L97.7 13.6 L100.7 24.5 L98.4 28.3 L96.3 22.7 L94.6 25.8 L92.7 24.2 L90.4 29.3 L88.5 23.7 L86.5 28.7 L84.6 23.9 L82.0 27.9 L80.4 22.8 L78.6 29.6 L76.2 23.0 L73.8 26.6 L71.2 23.9 L69.0 29.4 L66.9 24.5 L64.6 28.7 L62.3 23.7 L60.4 27.2 L58.7 24.7 L56.9 25.3 L54.4 23.0 L52.7 25.2 L50.4 23.9 L48.1 27.4 L45.9 23.1 L43.5 29.7 L41.8 24.6 L39.3 28.1 L37.5 22.3 L35.8 29.6 L33.6 24.5 L31.4 26.1 L29.7 24.3 L27.9 27.0 L26.3 22.8 L24.4 28.1 L22.5 24.9 L20.3 29.1 L18.7 23.2 L16.7 28.2 L14.4 23.6 L12.6 27.8 L10.1 22.5 L8.5 27.5 L6.0 22.0 L3.9 28.5 L2.1 23.5 L0.1 28.1 L-2.4 22.9 Z" fill="#dc6ad8" filter="url(#b06)"/><path d="M0.0 14.4 L8.0 13.4 L15.0 13.0 L22.0 13.6 L30.0 13.0 L40.0 13.8 L47.7 15.6 L55.0 15.2 L65.0 14.6 L80.0 14.4 L90.0 13.8 L97.7 13.6 L97.7 16.6 L90.0 16.8 L80.0 17.4 L65.0 17.6 L55.0 18.2 L47.7 18.6 L40.0 16.8 L30.0 16.0 L22.0 16.6 L15.0 16.0 L8.0 16.4 L0.0 17.4 Z" fill="#d45ad0" filter="url(#b06)"/></g><path d="M49.4 31.8V36.8" stroke="#1a1a1a" stroke-width="1.25"/><path d="M48.4 32.1H50.4M48.4 36.5H50.4" stroke="#1a1a1a" stroke-width="0.6"/></g></g>
<clipPath id="cp10"><rect x="0" y="0" width="97.70" height="53.40"/></clipPath><g transform="translate(422.30,323.60)"><g clip-path="url(#cp10)"><g filter="url(#tex2)"><path d="M-3.0 -3.0 L100.7 -3.0 L100.7 56.4 L-3.0 56.4 Z" fill="#f2e8f4"/><path d="M20.0 27.0 C28.6 22.7 40.4 15.2 48.7 11.5 C57.0 7.8 61.3 7.2 70.0 5.0 C78.7 2.8 95.6 -3.2 100.7 -1.5 C105.8 0.2 104.2 11.6 100.7 15.0 C97.2 18.4 86.8 17.8 80.0 19.0 C73.2 20.2 65.3 21.2 60.0 22.0 C54.7 22.8 53.0 21.7 48.0 24.0 C43.0 26.3 36.3 32.0 30.0 36.0 C23.7 40.0 15.5 44.7 10.0 48.0 C4.5 51.3 -0.8 57.8 -3.0 56.0 C-5.2 54.2 -6.8 42.3 -3.0 37.5 C0.8 32.7 11.4 31.3 20.0 27.0 Z" fill="#e8b0e4" filter="url(#b06)"/><path d="M-3 44 L60 14" stroke="#f0d0ee" stroke-width="1.2" filter="url(#b06)"/><path d="M-3 50 L50 22" stroke="#d890d6" stroke-width="1.2" filter="url(#b06)"/><path d="M10 40 L75 8" stroke="#eec8ec" stroke-width="1.2" filter="url(#b06)"/><path d="M30.0 45.0 C40.5 43.5 48.2 46.8 60.0 47.0 C71.8 47.2 93.9 44.5 100.7 46.0 C107.5 47.5 118.0 54.3 100.7 56.0 C83.4 57.7 8.8 57.8 -3.0 56.0 C-14.8 54.2 19.5 46.5 30.0 45.0 Z" fill="#e8c2e6" filter="url(#b1)"/><ellipse cx="61.5" cy="34.7" rx="13.8" ry="12.5" fill="#f2f4f0" filter="url(#b06)"/><ellipse cx="86" cy="25.5" rx="10" ry="9.5" fill="#f2f4f0" filter="url(#b06)"/><ellipse cx="61.5" cy="34.7" rx="14.2" ry="12.9" fill="none" stroke="#d8a8dc" stroke-width="0.8"/><ellipse cx="86" cy="25.5" rx="10.4" ry="9.9" fill="none" stroke="#d8a8dc" stroke-width="0.8"/><path d="M74 22 L76 34 L74 44" stroke="#b060b8" stroke-width="0.9" fill="none"/><ellipse cx="33" cy="44" rx="5" ry="3.5" fill="#f2f2f0" filter="url(#b06)"/><ellipse cx="8.9" cy="3.6" rx="3" ry="3.3" fill="#c43ab6"/><ellipse cx="9.200000000000001" cy="3.8000000000000003" rx="1.2" ry="1.5" fill="#e08ad8"/><ellipse cx="6.9" cy="11.8" rx="3.4" ry="4" fill="#c43ab6"/><ellipse cx="7.2" cy="12.0" rx="1.4" ry="1.8" fill="#e08ad8"/><ellipse cx="19.4" cy="4.9" rx="5.2" ry="4.5" fill="#c43ab6"/><ellipse cx="19.7" cy="5.1000000000000005" rx="2.1" ry="2.0" fill="#e08ad8"/><ellipse cx="0.4" cy="11" rx="1.6" ry="4.2" fill="#c43ab6"/><ellipse cx="0.7" cy="11.2" rx="0.6" ry="1.9" fill="#e08ad8"/><ellipse cx="30" cy="0.8" rx="2.4" ry="1.4" fill="#c43ab6"/><ellipse cx="30.3" cy="1.0" rx="1.0" ry="0.6" fill="#e08ad8"/><ellipse cx="29.4" cy="8.1" rx="1.9" ry="1.5" fill="#faf6fa"/><ellipse cx="32.8" cy="8.5" rx="2.4" ry="2.2" fill="#faf6fa"/><ellipse cx="36.9" cy="8.0" rx="1.5" ry="1.6" fill="#faf6fa"/><ellipse cx="4.2" cy="12.0" rx="2.3" ry="2.4" fill="#faf6fa"/><ellipse cx="9.2" cy="11.6" rx="1.9" ry="2.0" fill="#faf6fa"/><ellipse cx="13.6" cy="11.9" rx="2.4" ry="2.4" fill="#faf6fa"/><ellipse cx="17.5" cy="11.4" rx="1.8" ry="2.1" fill="#faf6fa"/><ellipse cx="22.4" cy="11.9" rx="1.9" ry="2.1" fill="#faf6fa"/><ellipse cx="26.3" cy="11.8" rx="2.0" ry="2.2" fill="#faf6fa"/><ellipse cx="30.3" cy="11.9" rx="2.1" ry="2.2" fill="#faf6fa"/><ellipse cx="6.5" cy="16.1" rx="1.9" ry="1.7" fill="#faf6fa"/><ellipse cx="11.4" cy="15.0" rx="2.3" ry="2.1" fill="#faf6fa"/><ellipse cx="15.0" cy="15.4" rx="1.6" ry="1.6" fill="#faf6fa"/><ellipse cx="20.1" cy="15.3" rx="1.7" ry="1.9" fill="#faf6fa"/><ellipse cx="24.9" cy="15.5" rx="1.9" ry="1.7" fill="#faf6fa"/><ellipse cx="4.2" cy="19.8" rx="1.7" ry="1.7" fill="#faf6fa"/><ellipse cx="8.7" cy="18.9" rx="1.7" ry="1.5" fill="#faf6fa"/><ellipse cx="12.8" cy="19.1" rx="1.9" ry="2.1" fill="#faf6fa"/><ellipse cx="17.9" cy="19.1" rx="2.6" ry="2.0" fill="#faf6fa"/><ellipse cx="7.2" cy="23.5" rx="2.1" ry="2.4" fill="#faf6fa"/><ellipse cx="11.0" cy="23.5" rx="2.2" ry="2.0" fill="#faf6fa"/><ellipse cx="4.1" cy="27.6" rx="2.0" ry="2.2" fill="#faf6fa"/><ellipse cx="55" cy="39.2" rx="1.4" ry="1.8" fill="#9a3aa8"/></g></g></g>
<text transform="translate(501.0,317.2) scale(1.2,1)" font-size="7.6" font-weight="bold" text-anchor="middle" fill="#111" stroke="#111" stroke-width="0.3">1 mm</text>
<line x1="483.7" y1="318.5" x2="517.4" y2="318.5" stroke="#111" stroke-width="1.5"/>
<text x="504.7" y="372.0" font-size="7.6" font-weight="bold" text-anchor="middle" fill="#111" stroke="#111" stroke-width="0.3">100 µm</text>
<line x1="492.7" y1="375.1" x2="517.4" y2="375.1" stroke="#111" stroke-width="1.4"/>
<text transform="translate(2.90,8.90)" font-size="12.4" font-weight="bold" text-anchor="start" fill="#111" stroke="#111" stroke-width="0.35">A</text>
<line x1="58.5" y1="16.00" x2="240.5" y2="16.00" stroke="#cfcfcf" stroke-width="1"/>
<line x1="58.5" y1="52.20" x2="240.5" y2="52.20" stroke="#cfcfcf" stroke-width="1"/>
<line x1="58.5" y1="88.40" x2="240.5" y2="88.40" stroke="#cfcfcf" stroke-width="1"/>
<line x1="58.5" y1="124.60" x2="240.5" y2="124.60" stroke="#cfcfcf" stroke-width="1"/>
<line x1="58.5" y1="160.80" x2="240.5" y2="160.80" stroke="#cfcfcf" stroke-width="1"/>
<line x1="52.8" y1="186.10" x2="57.7" y2="186.10" stroke="#111" stroke-width="0.9"/>
<line x1="52.8" y1="179.73" x2="57.7" y2="179.73" stroke="#111" stroke-width="0.9"/>
<line x1="52.8" y1="175.21" x2="57.7" y2="175.21" stroke="#111" stroke-width="0.9"/>
<line x1="52.8" y1="171.70" x2="57.7" y2="171.70" stroke="#111" stroke-width="0.9"/>
<line x1="52.8" y1="168.83" x2="57.7" y2="168.83" stroke="#111" stroke-width="0.9"/>
<line x1="52.8" y1="166.41" x2="57.7" y2="166.41" stroke="#111" stroke-width="0.9"/>
<line x1="52.8" y1="164.31" x2="57.7" y2="164.31" stroke="#111" stroke-width="0.9"/>
<line x1="52.8" y1="162.46" x2="57.7" y2="162.46" stroke="#111" stroke-width="0.9"/>
<line x1="52.8" y1="149.90" x2="57.7" y2="149.90" stroke="#111" stroke-width="0.9"/>
<line x1="52.8" y1="143.53" x2="57.7" y2="143.53" stroke="#111" stroke-width="0.9"/>
<line x1="52.8" y1="139.01" x2="57.7" y2="139.01" stroke="#111" stroke-width="0.9"/>
<line x1="52.8" y1="135.50" x2="57.7" y2="135.50" stroke="#111" stroke-width="0.9"/>
<line x1="52.8" y1="132.63" x2="57.7" y2="132.63" stroke="#111" stroke-width="0.9"/>
<line x1="52.8" y1="130.21" x2="57.7" y2="130.21" stroke="#111" stroke-width="0.9"/>
<line x1="52.8" y1="128.11" x2="57.7" y2="128.11" stroke="#111" stroke-width="0.9"/>
<line x1="52.8" y1="126.26" x2="57.7" y2="126.26" stroke="#111" stroke-width="0.9"/>
<line x1="52.8" y1="113.70" x2="57.7" y2="113.70" stroke="#111" stroke-width="0.9"/>
<line x1="52.8" y1="107.33" x2="57.7" y2="107.33" stroke="#111" stroke-width="0.9"/>
<line x1="52.8" y1="102.81" x2="57.7" y2="102.81" stroke="#111" stroke-width="0.9"/>
<line x1="52.8" y1="99.30" x2="57.7" y2="99.30" stroke="#111" stroke-width="0.9"/>
<line x1="52.8" y1="96.43" x2="57.7" y2="96.43" stroke="#111" stroke-width="0.9"/>
<line x1="52.8" y1="94.01" x2="57.7" y2="94.01" stroke="#111" stroke-width="0.9"/>
<line x1="52.8" y1="91.91" x2="57.7" y2="91.91" stroke="#111" stroke-width="0.9"/>
<line x1="52.8" y1="90.06" x2="57.7" y2="90.06" stroke="#111" stroke-width="0.9"/>
<line x1="52.8" y1="77.50" x2="57.7" y2="77.50" stroke="#111" stroke-width="0.9"/>
<line x1="52.8" y1="71.13" x2="57.7" y2="71.13" stroke="#111" stroke-width="0.9"/>
<line x1="52.8" y1="66.61" x2="57.7" y2="66.61" stroke="#111" stroke-width="0.9"/>
<line x1="52.8" y1="63.10" x2="57.7" y2="63.10" stroke="#111" stroke-width="0.9"/>
<line x1="52.8" y1="60.23" x2="57.7" y2="60.23" stroke="#111" stroke-width="0.9"/>
<line x1="52.8" y1="57.81" x2="57.7" y2="57.81" stroke="#111" stroke-width="0.9"/>
<line x1="52.8" y1="55.71" x2="57.7" y2="55.71" stroke="#111" stroke-width="0.9"/>
<line x1="52.8" y1="53.86" x2="57.7" y2="53.86" stroke="#111" stroke-width="0.9"/>
<line x1="52.8" y1="41.30" x2="57.7" y2="41.30" stroke="#111" stroke-width="0.9"/>
<line x1="52.8" y1="34.93" x2="57.7" y2="34.93" stroke="#111" stroke-width="0.9"/>
<line x1="52.8" y1="30.41" x2="57.7" y2="30.41" stroke="#111" stroke-width="0.9"/>
<line x1="52.8" y1="26.90" x2="57.7" y2="26.90" stroke="#111" stroke-width="0.9"/>
<line x1="52.8" y1="24.03" x2="57.7" y2="24.03" stroke="#111" stroke-width="0.9"/>
<line x1="52.8" y1="21.61" x2="57.7" y2="21.61" stroke="#111" stroke-width="0.9"/>
<line x1="52.8" y1="19.51" x2="57.7" y2="19.51" stroke="#111" stroke-width="0.9"/>
<line x1="52.8" y1="17.66" x2="57.7" y2="17.66" stroke="#111" stroke-width="0.9"/>
<line x1="49" y1="16.00" x2="57.7" y2="16.00" stroke="#111" stroke-width="1.2"/>
<text transform="translate(46.20,19.00) scale(0.9800,1)" font-size="8.4" text-anchor="end" fill="#1a1a1a" stroke="#1a1a1a" stroke-width="0.32">1E+04</text>
<line x1="49" y1="52.20" x2="57.7" y2="52.20" stroke="#111" stroke-width="1.2"/>
<text transform="translate(46.20,55.20) scale(1.0300,1)" font-size="8.4" text-anchor="end" fill="#1a1a1a" stroke="#1a1a1a" stroke-width="0.32">1,000</text>
<line x1="49" y1="88.40" x2="57.7" y2="88.40" stroke="#111" stroke-width="1.2"/>
<text transform="translate(46.20,91.40)" font-size="8.4" text-anchor="end" fill="#1a1a1a" stroke="#1a1a1a" stroke-width="0.32">100</text>
<line x1="49" y1="124.60" x2="57.7" y2="124.60" stroke="#111" stroke-width="1.2"/>
<text transform="translate(46.20,127.60)" font-size="8.4" text-anchor="end" fill="#1a1a1a" stroke="#1a1a1a" stroke-width="0.32">10</text>
<line x1="49" y1="160.80" x2="57.7" y2="160.80" stroke="#111" stroke-width="1.2"/>
<text transform="translate(46.20,163.80)" font-size="8.4" text-anchor="end" fill="#1a1a1a" stroke="#1a1a1a" stroke-width="0.32">1</text>
<line x1="49" y1="197.00" x2="57.7" y2="197.00" stroke="#111" stroke-width="1.2"/>
<text transform="translate(46.20,200.00)" font-size="8.4" text-anchor="end" fill="#1a1a1a" stroke="#1a1a1a" stroke-width="0.32">0.1</text>
<line x1="57.7" y1="15.3" x2="57.7" y2="206.3" stroke="#111" stroke-width="1.6"/>
<line x1="49" y1="197.3" x2="240.6" y2="197.3" stroke="#111" stroke-width="1.6"/>
<line x1="66.38" y1="197.3" x2="66.38" y2="202" stroke="#111" stroke-width="1"/>
<line x1="75.06" y1="197.3" x2="75.06" y2="202" stroke="#111" stroke-width="1"/>
<line x1="83.74" y1="197.3" x2="83.74" y2="206.3" stroke="#111" stroke-width="1.3"/>
<line x1="92.42" y1="197.3" x2="92.42" y2="202" stroke="#111" stroke-width="1"/>
<line x1="101.10" y1="197.3" x2="101.10" y2="202" stroke="#111" stroke-width="1"/>
<line x1="109.78" y1="197.3" x2="109.78" y2="206.3" stroke="#111" stroke-width="1.3"/>
<line x1="118.46" y1="197.3" x2="118.46" y2="202" stroke="#111" stroke-width="1"/>
<line x1="127.14" y1="197.3" x2="127.14" y2="202" stroke="#111" stroke-width="1"/>
<line x1="135.82" y1="197.3" x2="135.82" y2="206.3" stroke="#111" stroke-width="1.3"/>
<line x1="144.50" y1="197.3" x2="144.50" y2="202" stroke="#111" stroke-width="1"/>
<line x1="153.18" y1="197.3" x2="153.18" y2="202" stroke="#111" stroke-width="1"/>
<line x1="161.86" y1="197.3" x2="161.86" y2="206.3" stroke="#111" stroke-width="1.3"/>
<line x1="170.54" y1="197.3" x2="170.54" y2="202" stroke="#111" stroke-width="1"/>
<line x1="179.22" y1="197.3" x2="179.22" y2="202" stroke="#111" stroke-width="1"/>
<line x1="187.90" y1="197.3" x2="187.90" y2="206.3" stroke="#111" stroke-width="1.3"/>
<line x1="196.58" y1="197.3" x2="196.58" y2="202" stroke="#111" stroke-width="1"/>
<line x1="205.26" y1="197.3" x2="205.26" y2="202" stroke="#111" stroke-width="1"/>
<line x1="213.94" y1="197.3" x2="213.94" y2="206.3" stroke="#111" stroke-width="1.3"/>
<line x1="222.62" y1="197.3" x2="222.62" y2="202" stroke="#111" stroke-width="1"/>
<line x1="231.30" y1="197.3" x2="231.30" y2="202" stroke="#111" stroke-width="1"/>
<line x1="239.98" y1="197.3" x2="239.98" y2="206.3" stroke="#111" stroke-width="1.3"/>
<text transform="translate(57.70,216.90)" font-size="8.6" text-anchor="middle" fill="#1a1a1a" stroke="#1a1a1a" stroke-width="0.3">0</text>
<text transform="translate(83.74,216.90)" font-size="8.6" text-anchor="middle" fill="#1a1a1a" stroke="#1a1a1a" stroke-width="0.3">3</text>
<text transform="translate(109.78,216.90)" font-size="8.6" text-anchor="middle" fill="#1a1a1a" stroke="#1a1a1a" stroke-width="0.3">6</text>
<text transform="translate(135.82,216.90)" font-size="8.6" text-anchor="middle" fill="#1a1a1a" stroke="#1a1a1a" stroke-width="0.3">9</text>
<text transform="translate(161.86,216.90)" font-size="8.6" text-anchor="middle" fill="#1a1a1a" stroke="#1a1a1a" stroke-width="0.3">12</text>
<text transform="translate(187.90,216.90)" font-size="8.6" text-anchor="middle" fill="#1a1a1a" stroke="#1a1a1a" stroke-width="0.3">15</text>
<text transform="translate(213.94,216.90)" font-size="8.6" text-anchor="middle" fill="#1a1a1a" stroke="#1a1a1a" stroke-width="0.3">18</text>
<text transform="translate(239.98,216.90)" font-size="8.6" text-anchor="middle" fill="#1a1a1a" stroke="#1a1a1a" stroke-width="0.3">21</text>
<text transform="translate(148.60,232.60) scale(0.9700,1)" font-size="8.6" text-anchor="middle" fill="#1a1a1a" stroke="#1a1a1a" stroke-width="0.2">Time (day)</text>
<text transform="translate(13.1,104.2) rotate(-90)" font-size="8.9" text-anchor="middle" fill="#151515" stroke="#151515" stroke-width="0.35" textLength="125" lengthAdjust="spacingAndGlyphs">Mean BiJ591 plasma conc (ng/mL)</text>
<path d="M61.00 56.50V77.00M59.30 56.50H62.70M59.30 77.00H62.70" stroke="#111" stroke-width="0.8" fill="none"/>
<path d="M92.40 85.60V98.50M90.70 85.60H94.10M90.70 98.50H94.10" stroke="#111" stroke-width="0.8" fill="none"/>
<path d="M118.30 108.00V165.60M116.60 108.00H120.00M116.60 165.60H120.00" stroke="#111" stroke-width="0.8" fill="none"/>
<path d="M58.90 35.00V40.00M57.20 35.00H60.60M57.20 40.00H60.60" stroke="#111" stroke-width="0.8" fill="none"/>
<path d="M66.30 43.50V49.00M64.60 43.50H68.00M64.60 49.00H68.00" stroke="#111" stroke-width="0.8" fill="none"/>
<path d="M75.50 64.50V70.80M73.80 64.50H77.20M73.80 70.80H77.20" stroke="#111" stroke-width="0.8" fill="none"/>
<path d="M118.30 92.20V105.30M116.60 92.20H120.00M116.60 105.30H120.00" stroke="#111" stroke-width="1.0" fill="none"/>
<path d="M135.50 86.90V117.00M133.80 86.90H137.20M133.80 117.00H137.20" stroke="#111" stroke-width="1.0" fill="none"/>
<path d="M152.90 100.70V114.30M151.20 100.70H154.60M151.20 114.30H154.60" stroke="#111" stroke-width="1.0" fill="none"/>
<path d="M179.60 91.50V128.90M177.90 91.50H181.30M177.90 128.90H181.30" stroke="#111" stroke-width="1.0" fill="none"/>
<path d="M196.60 95.50V136.80M194.90 95.50H198.30M194.90 136.80H198.30" stroke="#111" stroke-width="1.0" fill="none"/>
<path d="M240.00 105.00V118.20M238.30 105.00H241.70M238.30 118.20H241.70" stroke="#111" stroke-width="1.0" fill="none"/>
<path d="M92.40 75.00V81.00M90.70 75.00H94.10M90.70 81.00H94.10" stroke="#111" stroke-width="1.0" fill="none"/>
<path d="M66.00 73.00V79.50M64.30 73.00H67.70M64.30 79.50H67.70" stroke="#111" stroke-width="1.0" fill="none"/>
<path d="M75.50 72.50V79.50M73.80 72.50H77.20M73.80 79.50H77.20" stroke="#111" stroke-width="1.0" fill="none"/>
<path d="M59.50 67.00V80.00M57.80 67.00H61.20M57.80 80.00H61.20" stroke="#111" stroke-width="1.0" fill="none"/>
<path d="M58.90 37.50 L60.30 38.60 L66.30 46.20 L75.50 67.70" stroke="#111" stroke-width="1.0" fill="none" stroke-linejoin="round"/>
<path d="M58.80 74.50 L61.00 62.50 L66.00 78.00 L75.50 80.70 L92.40 90.50 L118.30 114.30" stroke="#111" stroke-width="0.9" fill="none" stroke-linejoin="round"/>
<path d="M58.60 72.50 L60.00 71.00 L61.50 74.50 L66.00 75.50 L75.50 76.50 L92.40 77.70 L118.30 97.90 L135.50 109.20 L152.90 111.70 L179.60 116.30 L196.60 111.70 L240.00 130.10" stroke="#111" stroke-width="1.5" fill="none" stroke-linejoin="round"/>
<path d="M58.60 76.00 L60.00 74.00 L61.50 72.00 L66.00 76.50 L75.50 75.00 L92.40 77.20 L118.30 98.80 L135.50 92.60 L152.90 104.30 L179.60 101.50 L196.60 99.10 L240.00 110.50" stroke="#111" stroke-width="1.5" fill="none" stroke-linejoin="round"/>
<circle cx="58.90" cy="37.50" r="2.1" fill="#fff" stroke="#222" stroke-width="1.2"/>
<circle cx="60.30" cy="38.60" r="2.1" fill="#fff" stroke="#222" stroke-width="1.2"/>
<circle cx="66.30" cy="46.20" r="2.1" fill="#fff" stroke="#222" stroke-width="1.2"/>
<circle cx="75.50" cy="67.70" r="2.1" fill="#fff" stroke="#222" stroke-width="1.2"/>
<rect x="56.60" y="72.30" width="4.4" height="4.4" fill="#fff" stroke="#444" stroke-width="1.0"/>
<rect x="58.80" y="60.30" width="4.4" height="4.4" fill="#fff" stroke="#444" stroke-width="1.0"/>
<rect x="63.80" y="75.80" width="4.4" height="4.4" fill="#fff" stroke="#444" stroke-width="1.0"/>
<rect x="73.30" y="78.50" width="4.4" height="4.4" fill="#fff" stroke="#444" stroke-width="1.0"/>
<rect x="90.20" y="88.30" width="4.4" height="4.4" fill="#fff" stroke="#444" stroke-width="1.0"/>
<rect x="116.10" y="112.10" width="4.4" height="4.4" fill="#fff" stroke="#444" stroke-width="1.0"/>
<path d="M58.60 69.50L61.75 74.90L55.45 74.90Z" fill="#111"/>
<path d="M60.00 68.00L63.15 73.40L56.85 73.40Z" fill="#111"/>
<path d="M61.50 71.50L64.65 76.90L58.35 76.90Z" fill="#111"/>
<path d="M66.00 72.50L69.15 77.90L62.85 77.90Z" fill="#111"/>
<path d="M75.50 73.50L78.65 78.90L72.35 78.90Z" fill="#111"/>
<path d="M92.40 74.70L95.55 80.10L89.25 80.10Z" fill="#111"/>
<path d="M118.30 94.90L121.45 100.30L115.15 100.30Z" fill="#111"/>
<path d="M135.50 106.20L138.65 111.60L132.35 111.60Z" fill="#111"/>
<path d="M152.90 108.70L156.05 114.10L149.75 114.10Z" fill="#111"/>
<path d="M179.60 113.30L182.75 118.70L176.45 118.70Z" fill="#111"/>
<path d="M196.60 108.70L199.75 114.10L193.45 114.10Z" fill="#111"/>
<path d="M240.00 127.10L243.15 132.50L236.85 132.50Z" fill="#111"/>
<path d="M58.60 73.25L61.35 76.00L58.60 78.75L55.85 76.00Z" fill="#111"/>
<path d="M60.00 71.25L62.75 74.00L60.00 76.75L57.25 74.00Z" fill="#111"/>
<path d="M61.50 69.25L64.25 72.00L61.50 74.75L58.75 72.00Z" fill="#111"/>
<path d="M66.00 73.75L68.75 76.50L66.00 79.25L63.25 76.50Z" fill="#111"/>
<path d="M75.50 72.25L78.25 75.00L75.50 77.75L72.75 75.00Z" fill="#111"/>
<path d="M92.40 74.45L95.15 77.20L92.40 79.95L89.65 77.20Z" fill="#111"/>
<path d="M118.30 96.05L121.05 98.80L118.30 101.55L115.55 98.80Z" fill="#111"/>
<path d="M135.50 89.85L138.25 92.60L135.50 95.35L132.75 92.60Z" fill="#111"/>
<path d="M152.90 101.55L155.65 104.30L152.90 107.05L150.15 104.30Z" fill="#111"/>
<path d="M179.60 98.75L182.35 101.50L179.60 104.25L176.85 101.50Z" fill="#111"/>
<path d="M196.60 96.35L199.35 99.10L196.60 101.85L193.85 99.10Z" fill="#111"/>
<path d="M240.00 107.75L242.75 110.50L240.00 113.25L237.25 110.50Z" fill="#111"/>
<rect x="149.6" y="18.5" width="84.5" height="67" fill="#fff" stroke="#666" stroke-width="0.8"/>
<text transform="translate(153.60,27.80) scale(0.9520,1)" font-size="8.2" text-anchor="start" fill="#1a1a1a" stroke="#1a1a1a" stroke-width="0.3">i.v. formulation</text>
<line x1="154.9" y1="34.7" x2="165.5" y2="34.7" stroke="#111" stroke-width="1.2"/>
<circle cx="160.20" cy="34.70" r="1.9" fill="#fff" stroke="#222" stroke-width="1.5"/>
<text transform="translate(171.50,37.60) scale(0.9520,1)" font-size="8.2" text-anchor="start" fill="#1a1a1a" stroke="#1a1a1a" stroke-width="0.3">Bolus BiJ591</text>
<text transform="translate(153.60,51.50) scale(0.9520,1)" font-size="8.2" text-anchor="start" fill="#1a1a1a" stroke="#1a1a1a" stroke-width="0.3">s.c. formulations</text>
<line x1="154.9" y1="58.9" x2="165.5" y2="58.9" stroke="#111" stroke-width="1.2"/>
<rect x="158.20" y="56.90" width="4.0" height="4.0" fill="#fff" stroke="#444" stroke-width="1.0"/>
<text transform="translate(171.50,61.50) scale(0.9520,1)" font-size="8.2" text-anchor="start" fill="#1a1a1a" stroke="#1a1a1a" stroke-width="0.3">Bolus BiJ591</text>
<line x1="154.9" y1="68.4" x2="165.5" y2="68.4" stroke="#111" stroke-width="1.3"/>
<path d="M160.20 66.40L162.30 70.00L158.10 70.00Z" fill="#111"/>
<text transform="translate(171.50,71.00) scale(0.9520,1)" font-size="8.2" text-anchor="start" fill="#1a1a1a" stroke="#1a1a1a" stroke-width="0.3">BiJ591-TB1/DB1</text>
<line x1="154.9" y1="78.0" x2="165.5" y2="78.0" stroke="#111" stroke-width="1.3"/>
<path d="M160.20 76.20L162.00 78.00L160.20 79.80L158.40 78.00Z" fill="#111"/>
<text transform="translate(171.50,80.00) scale(0.9520,1)" font-size="8.2" text-anchor="start" fill="#1a1a1a" stroke="#1a1a1a" stroke-width="0.3">BiJ591-TB1/DB4</text>
<text transform="translate(287.40,9.00)" font-size="12.4" font-weight="bold" text-anchor="start" fill="#111" stroke="#111" stroke-width="0.35">B</text>
<line x1="332.9" y1="15.40" x2="332.9" y2="93.60" stroke="#111" stroke-width="1.3"/>
<line x1="329.9" y1="93.00" x2="332.9" y2="93.00" stroke="#111" stroke-width="1.1"/>
<text transform="translate(330.30,95.90) scale(0.9200,1)" font-size="8.0" font-weight="bold" text-anchor="end" fill="#1a1a1a" stroke="#1a1a1a" stroke-width="0.2">0.0</text>
<line x1="329.9" y1="73.75" x2="332.9" y2="73.75" stroke="#111" stroke-width="1.1"/>
<text transform="translate(330.30,76.65) scale(0.9200,1)" font-size="8.0" font-weight="bold" text-anchor="end" fill="#1a1a1a" stroke="#1a1a1a" stroke-width="0.2">0.5</text>
<line x1="329.9" y1="54.50" x2="332.9" y2="54.50" stroke="#111" stroke-width="1.1"/>
<text transform="translate(330.30,57.40) scale(0.9200,1)" font-size="8.0" font-weight="bold" text-anchor="end" fill="#1a1a1a" stroke="#1a1a1a" stroke-width="0.2">1.0</text>
<line x1="329.9" y1="35.25" x2="332.9" y2="35.25" stroke="#111" stroke-width="1.1"/>
<text transform="translate(330.30,38.15) scale(0.9200,1)" font-size="8.0" font-weight="bold" text-anchor="end" fill="#1a1a1a" stroke="#1a1a1a" stroke-width="0.2">1.5</text>
<line x1="329.9" y1="16.00" x2="332.9" y2="16.00" stroke="#111" stroke-width="1.1"/>
<text transform="translate(330.30,18.90) scale(0.9200,1)" font-size="8.0" font-weight="bold" text-anchor="end" fill="#1a1a1a" stroke="#1a1a1a" stroke-width="0.2">2.0</text>
<line x1="332.29999999999995" y1="93.00" x2="516" y2="93.00" stroke="#111" stroke-width="1.4"/>
<line x1="355.70" y1="93.00" x2="355.70" y2="95.70" stroke="#111" stroke-width="1.1"/>
<text transform="translate(355.70,103.50) scale(0.9500,1)" font-size="7.7" font-weight="bold" text-anchor="middle" fill="#1a1a1a" stroke="#1a1a1a" stroke-width="0.2">RBC</text>
<path d="M339.50 57.20V55.27M337.70 55.27H341.30" stroke="#111" stroke-width="1.1" fill="none"/>
<rect x="336.95" y="57.74" width="5.10" height="35.26" fill="#111" stroke="#111" stroke-width="1.1"/>
<path d="M347.60 54.50V54.12M345.80 54.12H349.40" stroke="#111" stroke-width="1.1" fill="none"/>
<rect x="345.05" y="55.05" width="5.10" height="37.95" fill="#fff" stroke="#111" stroke-width="1.1"/>
<path d="M355.70 54.12V53.73M353.90 53.73H357.50" stroke="#111" stroke-width="1.1" fill="none"/>
<rect x="353.15" y="54.66" width="5.10" height="38.34" fill="url(#hatch)" stroke="#111" stroke-width="1.1"/>
<path d="M363.80 54.88V54.50M362.00 54.50H365.60" stroke="#111" stroke-width="1.1" fill="none"/>
<rect x="361.25" y="55.43" width="5.10" height="37.57" fill="url(#hstripe)" stroke="#111" stroke-width="1.1"/>
<path d="M371.90 54.88V54.50M370.10 54.50H373.70" stroke="#111" stroke-width="1.1" fill="none"/>
<rect x="369.35" y="55.43" width="5.10" height="37.57" fill="#fff" stroke="#111" stroke-width="1.1"/>
<line x1="371.09" y1="55.88" x2="371.09" y2="93.00" stroke="#222" stroke-width="0.7"/>
<line x1="372.71" y1="55.88" x2="372.71" y2="93.00" stroke="#222" stroke-width="0.7"/>
<line x1="401.30" y1="93.00" x2="401.30" y2="95.70" stroke="#111" stroke-width="1.1"/>
<text transform="translate(401.30,103.50) scale(0.9500,1)" font-size="7.7" font-weight="bold" text-anchor="middle" fill="#1a1a1a" stroke="#1a1a1a" stroke-width="0.2">HGB</text>
<path d="M385.10 57.20V54.88M383.30 54.88H386.90" stroke="#111" stroke-width="1.1" fill="none"/>
<rect x="382.55" y="57.74" width="5.10" height="35.26" fill="#111" stroke="#111" stroke-width="1.1"/>
<path d="M393.20 54.88V54.50M391.40 54.50H395.00" stroke="#111" stroke-width="1.1" fill="none"/>
<rect x="390.65" y="55.43" width="5.10" height="37.57" fill="#fff" stroke="#111" stroke-width="1.1"/>
<path d="M401.30 53.73V53.34M399.50 53.34H403.10" stroke="#111" stroke-width="1.1" fill="none"/>
<rect x="398.75" y="54.28" width="5.10" height="38.72" fill="url(#hatch)" stroke="#111" stroke-width="1.1"/>
<path d="M409.40 54.88V54.50M407.60 54.50H411.20" stroke="#111" stroke-width="1.1" fill="none"/>
<rect x="406.85" y="55.43" width="5.10" height="37.57" fill="url(#hstripe)" stroke="#111" stroke-width="1.1"/>
<path d="M417.50 55.66V55.27M415.70 55.27H419.30" stroke="#111" stroke-width="1.1" fill="none"/>
<rect x="414.95" y="56.20" width="5.10" height="36.80" fill="#fff" stroke="#111" stroke-width="1.1"/>
<line x1="416.69" y1="56.66" x2="416.69" y2="93.00" stroke="#222" stroke-width="0.7"/>
<line x1="418.31" y1="56.66" x2="418.31" y2="93.00" stroke="#222" stroke-width="0.7"/>
<line x1="446.90" y1="93.00" x2="446.90" y2="95.70" stroke="#111" stroke-width="1.1"/>
<text transform="translate(446.90,103.50) scale(0.9500,1)" font-size="7.7" font-weight="bold" text-anchor="middle" fill="#1a1a1a" stroke="#1a1a1a" stroke-width="0.2">HCT</text>
<path d="M430.70 57.20V55.27M428.90 55.27H432.50" stroke="#111" stroke-width="1.1" fill="none"/>
<rect x="428.15" y="57.74" width="5.10" height="35.26" fill="#111" stroke="#111" stroke-width="1.1"/>
<path d="M438.80 55.66V55.27M437.00 55.27H440.60" stroke="#111" stroke-width="1.1" fill="none"/>
<rect x="436.25" y="56.20" width="5.10" height="36.80" fill="#fff" stroke="#111" stroke-width="1.1"/>
<path d="M446.90 54.88V54.50M445.10 54.50H448.70" stroke="#111" stroke-width="1.1" fill="none"/>
<rect x="444.35" y="55.43" width="5.10" height="37.57" fill="url(#hatch)" stroke="#111" stroke-width="1.1"/>
<path d="M455.00 54.88V54.50M453.20 54.50H456.80" stroke="#111" stroke-width="1.1" fill="none"/>
<rect x="452.45" y="55.43" width="5.10" height="37.57" fill="url(#hstripe)" stroke="#111" stroke-width="1.1"/>
<path d="M463.10 54.88V54.50M461.30 54.50H464.90" stroke="#111" stroke-width="1.1" fill="none"/>
<rect x="460.55" y="55.43" width="5.10" height="37.57" fill="#fff" stroke="#111" stroke-width="1.1"/>
<line x1="462.29" y1="55.88" x2="462.29" y2="93.00" stroke="#222" stroke-width="0.7"/>
<line x1="463.91" y1="55.88" x2="463.91" y2="93.00" stroke="#222" stroke-width="0.7"/>
<line x1="492.50" y1="93.00" x2="492.50" y2="95.70" stroke="#111" stroke-width="1.1"/>
<text transform="translate(492.50,103.50) scale(0.9500,1)" font-size="7.7" font-weight="bold" text-anchor="middle" fill="#1a1a1a" stroke="#1a1a1a" stroke-width="0.2">PLT</text>
<path d="M476.30 49.11V39.49M474.50 39.49H478.10" stroke="#111" stroke-width="1.1" fill="none"/>
<rect x="473.75" y="49.66" width="5.10" height="43.34" fill="#111" stroke="#111" stroke-width="1.1"/>
<path d="M484.40 57.20V41.02M482.60 41.02H486.20" stroke="#111" stroke-width="1.1" fill="none"/>
<rect x="481.85" y="57.74" width="5.10" height="35.26" fill="#fff" stroke="#111" stroke-width="1.1"/>
<path d="M492.50 53.73V35.63M490.70 35.63H494.30" stroke="#111" stroke-width="1.1" fill="none"/>
<rect x="489.95" y="54.28" width="5.10" height="38.72" fill="url(#hatch)" stroke="#111" stroke-width="1.1"/>
<path d="M500.60 56.43V53.73M498.80 53.73H502.40" stroke="#111" stroke-width="1.1" fill="none"/>
<rect x="498.05" y="56.98" width="5.10" height="36.02" fill="url(#hstripe)" stroke="#111" stroke-width="1.1"/>
<path d="M508.70 59.12V46.03M506.90 46.03H510.50" stroke="#111" stroke-width="1.1" fill="none"/>
<rect x="506.15" y="59.67" width="5.10" height="33.33" fill="#fff" stroke="#111" stroke-width="1.1"/>
<line x1="507.89" y1="60.12" x2="507.89" y2="93.00" stroke="#222" stroke-width="0.7"/>
<line x1="509.51" y1="60.12" x2="509.51" y2="93.00" stroke="#222" stroke-width="0.7"/>
<line x1="332.9" y1="120.90" x2="332.9" y2="197.80" stroke="#111" stroke-width="1.3"/>
<line x1="329.9" y1="197.20" x2="332.9" y2="197.20" stroke="#111" stroke-width="1.1"/>
<text transform="translate(330.30,200.10) scale(0.9200,1)" font-size="8.0" font-weight="bold" text-anchor="end" fill="#1a1a1a" stroke="#1a1a1a" stroke-width="0.2">0.0</text>
<line x1="329.9" y1="178.27" x2="332.9" y2="178.27" stroke="#111" stroke-width="1.1"/>
<text transform="translate(330.30,181.17) scale(0.9200,1)" font-size="8.0" font-weight="bold" text-anchor="end" fill="#1a1a1a" stroke="#1a1a1a" stroke-width="0.2">0.5</text>
<line x1="329.9" y1="159.35" x2="332.9" y2="159.35" stroke="#111" stroke-width="1.1"/>
<text transform="translate(330.30,162.25) scale(0.9200,1)" font-size="8.0" font-weight="bold" text-anchor="end" fill="#1a1a1a" stroke="#1a1a1a" stroke-width="0.2">1.0</text>
<line x1="329.9" y1="140.42" x2="332.9" y2="140.42" stroke="#111" stroke-width="1.1"/>
<text transform="translate(330.30,143.32) scale(0.9200,1)" font-size="8.0" font-weight="bold" text-anchor="end" fill="#1a1a1a" stroke="#1a1a1a" stroke-width="0.2">1.5</text>
<line x1="329.9" y1="121.50" x2="332.9" y2="121.50" stroke="#111" stroke-width="1.1"/>
<text transform="translate(330.30,124.40) scale(0.9200,1)" font-size="8.0" font-weight="bold" text-anchor="end" fill="#1a1a1a" stroke="#1a1a1a" stroke-width="0.2">2.0</text>
<line x1="332.29999999999995" y1="197.20" x2="516" y2="197.20" stroke="#111" stroke-width="1.4"/>
<line x1="355.70" y1="197.20" x2="355.70" y2="199.90" stroke="#111" stroke-width="1.1"/>
<text transform="translate(355.70,207.00) scale(0.9500,1)" font-size="7.7" font-weight="bold" text-anchor="middle" fill="#1a1a1a" stroke="#1a1a1a" stroke-width="0.2">WBC</text>
<path d="M339.50 161.24V157.08M337.70 157.08H341.30" stroke="#111" stroke-width="1.1" fill="none"/>
<rect x="336.95" y="161.79" width="5.10" height="35.41" fill="#111" stroke="#111" stroke-width="1.1"/>
<path d="M347.60 161.24V155.56M345.80 155.56H349.40" stroke="#111" stroke-width="1.1" fill="none"/>
<rect x="345.05" y="161.79" width="5.10" height="35.41" fill="#fff" stroke="#111" stroke-width="1.1"/>
<path d="M355.70 158.21V150.64M353.90 150.64H357.50" stroke="#111" stroke-width="1.1" fill="none"/>
<rect x="353.15" y="158.76" width="5.10" height="38.44" fill="url(#hatch)" stroke="#111" stroke-width="1.1"/>
<path d="M363.80 147.62V146.86M362.00 146.86H365.60" stroke="#111" stroke-width="1.1" fill="none"/>
<rect x="361.25" y="148.17" width="5.10" height="49.03" fill="url(#hstripe)" stroke="#111" stroke-width="1.1"/>
<path d="M371.90 159.35V155.56M370.10 155.56H373.70" stroke="#111" stroke-width="1.1" fill="none"/>
<rect x="369.35" y="159.90" width="5.10" height="37.30" fill="#fff" stroke="#111" stroke-width="1.1"/>
<line x1="371.09" y1="160.35" x2="371.09" y2="197.20" stroke="#222" stroke-width="0.7"/>
<line x1="372.71" y1="160.35" x2="372.71" y2="197.20" stroke="#222" stroke-width="0.7"/>
<line x1="401.30" y1="197.20" x2="401.30" y2="199.90" stroke="#111" stroke-width="1.1"/>
<text transform="translate(401.30,207.00) scale(0.9500,1)" font-size="7.7" font-weight="bold" text-anchor="middle" fill="#1a1a1a" stroke="#1a1a1a" stroke-width="0.2">NEU</text>
<path d="M385.10 156.70V152.16M383.30 152.16H386.90" stroke="#111" stroke-width="1.1" fill="none"/>
<rect x="382.55" y="157.25" width="5.10" height="39.95" fill="#111" stroke="#111" stroke-width="1.1"/>
<path d="M393.20 164.65V155.56M391.40 155.56H395.00" stroke="#111" stroke-width="1.1" fill="none"/>
<rect x="390.65" y="165.20" width="5.10" height="32.00" fill="#fff" stroke="#111" stroke-width="1.1"/>
<path d="M401.30 154.43V147.24M399.50 147.24H403.10" stroke="#111" stroke-width="1.1" fill="none"/>
<rect x="398.75" y="154.98" width="5.10" height="42.22" fill="url(#hatch)" stroke="#111" stroke-width="1.1"/>
<path d="M409.40 153.67V151.02M407.60 151.02H411.20" stroke="#111" stroke-width="1.1" fill="none"/>
<rect x="406.85" y="154.22" width="5.10" height="42.98" fill="url(#hstripe)" stroke="#111" stroke-width="1.1"/>
<path d="M417.50 160.11V155.56M415.70 155.56H419.30" stroke="#111" stroke-width="1.1" fill="none"/>
<rect x="414.95" y="160.66" width="5.10" height="36.54" fill="#fff" stroke="#111" stroke-width="1.1"/>
<line x1="416.69" y1="161.11" x2="416.69" y2="197.20" stroke="#222" stroke-width="0.7"/>
<line x1="418.31" y1="161.11" x2="418.31" y2="197.20" stroke="#222" stroke-width="0.7"/>
<line x1="446.90" y1="197.20" x2="446.90" y2="199.90" stroke="#111" stroke-width="1.1"/>
<text transform="translate(446.90,207.00) scale(0.9500,1)" font-size="7.7" font-weight="bold" text-anchor="middle" fill="#1a1a1a" stroke="#1a1a1a" stroke-width="0.2">LYM</text>
<path d="M430.70 162.76V158.97M428.90 158.97H432.50" stroke="#111" stroke-width="1.1" fill="none"/>
<rect x="428.15" y="163.31" width="5.10" height="33.89" fill="#111" stroke="#111" stroke-width="1.1"/>
<path d="M438.80 160.11V154.05M437.00 154.05H440.60" stroke="#111" stroke-width="1.1" fill="none"/>
<rect x="436.25" y="160.66" width="5.10" height="36.54" fill="#fff" stroke="#111" stroke-width="1.1"/>
<path d="M446.90 158.97V151.02M445.10 151.02H448.70" stroke="#111" stroke-width="1.1" fill="none"/>
<rect x="444.35" y="159.52" width="5.10" height="37.68" fill="url(#hatch)" stroke="#111" stroke-width="1.1"/>
<path d="M455.00 146.86V146.10M453.20 146.10H456.80" stroke="#111" stroke-width="1.1" fill="none"/>
<rect x="452.45" y="147.41" width="5.10" height="49.79" fill="url(#hstripe)" stroke="#111" stroke-width="1.1"/>
<path d="M463.10 158.59V155.19M461.30 155.19H464.90" stroke="#111" stroke-width="1.1" fill="none"/>
<rect x="460.55" y="159.14" width="5.10" height="38.06" fill="#fff" stroke="#111" stroke-width="1.1"/>
<line x1="462.29" y1="159.59" x2="462.29" y2="197.20" stroke="#222" stroke-width="0.7"/>
<line x1="463.91" y1="159.59" x2="463.91" y2="197.20" stroke="#222" stroke-width="0.7"/>
<line x1="492.50" y1="197.20" x2="492.50" y2="199.90" stroke="#111" stroke-width="1.1"/>
<text transform="translate(492.50,207.00) scale(0.9500,1)" font-size="7.7" font-weight="bold" text-anchor="middle" fill="#1a1a1a" stroke="#1a1a1a" stroke-width="0.2">MON</text>
<path d="M476.30 151.02V144.97M474.50 144.97H478.10" stroke="#111" stroke-width="1.1" fill="none"/>
<rect x="473.75" y="151.57" width="5.10" height="45.63" fill="#111" stroke="#111" stroke-width="1.1"/>
<path d="M484.40 168.43V160.86M482.60 160.86H486.20" stroke="#111" stroke-width="1.1" fill="none"/>
<rect x="481.85" y="168.98" width="5.10" height="28.22" fill="#fff" stroke="#111" stroke-width="1.1"/>
<path d="M492.50 158.97V153.29M490.70 153.29H494.30" stroke="#111" stroke-width="1.1" fill="none"/>
<rect x="489.95" y="159.52" width="5.10" height="37.68" fill="url(#hatch)" stroke="#111" stroke-width="1.1"/>
<path d="M500.60 136.64V133.99M498.80 133.99H502.40" stroke="#111" stroke-width="1.1" fill="none"/>
<rect x="498.05" y="137.19" width="5.10" height="60.01" fill="url(#hstripe)" stroke="#111" stroke-width="1.1"/>
<path d="M508.70 146.48V139.29M506.90 139.29H510.50" stroke="#111" stroke-width="1.1" fill="none"/>
<rect x="506.15" y="147.03" width="5.10" height="50.17" fill="#fff" stroke="#111" stroke-width="1.1"/>
<line x1="507.89" y1="147.48" x2="507.89" y2="197.20" stroke="#222" stroke-width="0.7"/>
<line x1="509.51" y1="147.48" x2="509.51" y2="197.20" stroke="#222" stroke-width="0.7"/>
<rect x="344.70" y="17.60" width="7.80" height="4.80" fill="#111" stroke="#111" stroke-width="1.2"/>
<text transform="translate(356.50,22.90)" font-size="7.6" font-weight="bold" text-anchor="start" fill="#1a1a1a" stroke="#1a1a1a" stroke-width="0.2">Day 1</text>
<rect x="344.70" y="27.30" width="7.80" height="4.80" fill="#fff" stroke="#111" stroke-width="1.2"/>
<text transform="translate(356.50,33.00)" font-size="7.6" font-weight="bold" text-anchor="start" fill="#1a1a1a" stroke="#1a1a1a" stroke-width="0.2">Day 7</text>
<rect x="344.70" y="37.10" width="7.80" height="4.80" fill="url(#hatchL)" stroke="#111" stroke-width="1.2"/>
<text transform="translate(356.50,43.00)" font-size="7.6" font-weight="bold" text-anchor="start" fill="#1a1a1a" stroke="#1a1a1a" stroke-width="0.2">Day 14</text>
<rect x="395.90" y="18.20" width="7.80" height="4.80" fill="#fff" stroke="#111" stroke-width="1.2"/>
<line x1="396.30" y1="20.60" x2="403.30" y2="20.60" stroke="#111" stroke-width="1"/>
<text transform="translate(408.00,22.90)" font-size="7.6" font-weight="bold" text-anchor="start" fill="#1a1a1a" stroke="#1a1a1a" stroke-width="0.2">Day 21</text>
<rect x="395.90" y="28.60" width="7.80" height="4.80" fill="#fff" stroke="#111" stroke-width="1.2"/>
<line x1="398.60" y1="29.00" x2="398.60" y2="33.00" stroke="#111" stroke-width="0.9"/>
<line x1="401.00" y1="29.00" x2="401.00" y2="33.00" stroke="#111" stroke-width="0.9"/>
<text transform="translate(408.00,33.00)" font-size="7.6" font-weight="bold" text-anchor="start" fill="#1a1a1a" stroke="#1a1a1a" stroke-width="0.2">Day 28</text>
<text transform="translate(314.3,108.3) rotate(-90)" font-size="7.8" font-weight="bold" text-anchor="middle" fill="#1a1a1a" stroke="#1a1a1a" stroke-width="0.25" textLength="143.5" lengthAdjust="spacingAndGlyphs">Fold change relative to control mice</text>
<line x1="311.7" y1="30.5" x2="311.7" y2="19" stroke="#111" stroke-width="1.6"/>
<path d="M311.7 14.4L314.4 20.6L309.0 20.6Z" fill="#111"/>
<line x1="311.6" y1="185.3" x2="311.6" y2="194" stroke="#111" stroke-width="1.5"/>
<text transform="translate(2.70,246.90)" font-size="13.0" font-weight="bold" text-anchor="start" fill="#111" stroke="#111" stroke-width="0.35">C</text>
<text transform="translate(72.90,254.10) scale(1.0100,1)" font-size="11" font-weight="bold" text-anchor="middle" fill="#111" stroke="#111" stroke-width="0.25">Day 1</text>
<text transform="translate(172.80,254.10) scale(1.0100,1)" font-size="11" font-weight="bold" text-anchor="middle" fill="#111" stroke="#111" stroke-width="0.25">Day 7</text>
<text transform="translate(272.50,254.10) scale(1.0100,1)" font-size="11" font-weight="bold" text-anchor="middle" fill="#111" stroke="#111" stroke-width="0.25">Day 14</text>
<text transform="translate(371.50,254.10) scale(1.0100,1)" font-size="11" font-weight="bold" text-anchor="middle" fill="#111" stroke="#111" stroke-width="0.25">Day 21</text>
<text transform="translate(471.20,254.10) scale(1.0100,1)" font-size="11" font-weight="bold" text-anchor="middle" fill="#111" stroke="#111" stroke-width="0.25">Day 28</text>
<text transform="translate(20.20,298.50)" font-size="11" font-weight="bold" text-anchor="end" fill="#111" stroke="#111" stroke-width="0.3">1X</text>
<text transform="translate(20.20,354.70)" font-size="11" font-weight="bold" text-anchor="end" fill="#111" stroke="#111" stroke-width="0.3">10X</text>
</svg>
</body></html>
